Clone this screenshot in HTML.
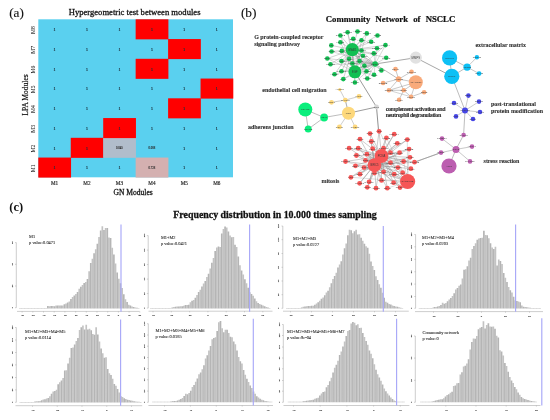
<!DOCTYPE html>
<html><head><meta charset="utf-8"><style>
html,body{margin:0;padding:0;background:#fff;overflow:hidden;width:550px;height:420px;}
svg{display:block;font-family:'Liberation Serif', 'Times New Roman', serif;}
</style></head><body>
<svg width="550" height="420" viewBox="0 0 550 420">
<rect width="550" height="420" fill="#fff"/>
<rect x="38.3" y="19.3" width="194.70" height="158.00" fill="#5AD0EF"/>
<rect x="38.30" y="157.55" width="32.75" height="20.05" fill="#FF0000"/>
<text x="54.52" y="169.33" font-size="2.6" font-family="Liberation Sans, sans-serif" text-anchor="middle" fill="#1c3440" stroke="#1c3440" stroke-width="0.22">1</text>
<text x="86.97" y="169.33" font-size="2.6" font-family="Liberation Sans, sans-serif" text-anchor="middle" fill="#1c3440" stroke="#1c3440" stroke-width="0.22">1</text>
<text x="119.42" y="169.33" font-size="2.6" font-family="Liberation Sans, sans-serif" text-anchor="middle" fill="#1c3440" stroke="#1c3440" stroke-width="0.22">1</text>
<rect x="135.65" y="157.55" width="32.75" height="20.05" fill="#D4B0B0"/>
<text x="151.87" y="168.83" font-size="3.0" text-anchor="middle" fill="#2a2a2a" stroke="#2a2a2a" stroke-width="0.1">0.728</text>
<text x="184.32" y="169.33" font-size="2.6" font-family="Liberation Sans, sans-serif" text-anchor="middle" fill="#1c3440" stroke="#1c3440" stroke-width="0.22">1</text>
<text x="216.77" y="169.33" font-size="2.6" font-family="Liberation Sans, sans-serif" text-anchor="middle" fill="#1c3440" stroke="#1c3440" stroke-width="0.22">1</text>
<text x="54.52" y="149.58" font-size="2.6" font-family="Liberation Sans, sans-serif" text-anchor="middle" fill="#1c3440" stroke="#1c3440" stroke-width="0.22">1</text>
<rect x="70.75" y="137.80" width="32.75" height="20.05" fill="#FF0000"/>
<text x="86.97" y="149.58" font-size="2.6" font-family="Liberation Sans, sans-serif" text-anchor="middle" fill="#1c3440" stroke="#1c3440" stroke-width="0.22">1</text>
<rect x="103.20" y="137.80" width="32.75" height="20.05" fill="#B1BDCB"/>
<text x="119.42" y="149.08" font-size="3.0" text-anchor="middle" fill="#2a2a2a" stroke="#2a2a2a" stroke-width="0.1">0.045</text>
<text x="151.87" y="149.08" font-size="3.0" text-anchor="middle" fill="#2a2a2a" stroke="#2a2a2a" stroke-width="0.1">0.088</text>
<text x="184.32" y="149.58" font-size="2.6" font-family="Liberation Sans, sans-serif" text-anchor="middle" fill="#1c3440" stroke="#1c3440" stroke-width="0.22">1</text>
<text x="216.77" y="149.58" font-size="2.6" font-family="Liberation Sans, sans-serif" text-anchor="middle" fill="#1c3440" stroke="#1c3440" stroke-width="0.22">1</text>
<text x="54.52" y="129.82" font-size="2.6" font-family="Liberation Sans, sans-serif" text-anchor="middle" fill="#1c3440" stroke="#1c3440" stroke-width="0.22">1</text>
<text x="86.97" y="129.82" font-size="2.6" font-family="Liberation Sans, sans-serif" text-anchor="middle" fill="#1c3440" stroke="#1c3440" stroke-width="0.22">1</text>
<rect x="103.20" y="118.05" width="32.75" height="20.05" fill="#FF0000"/>
<text x="119.42" y="129.82" font-size="2.6" font-family="Liberation Sans, sans-serif" text-anchor="middle" fill="#1c3440" stroke="#1c3440" stroke-width="0.22">1</text>
<text x="151.87" y="129.82" font-size="2.6" font-family="Liberation Sans, sans-serif" text-anchor="middle" fill="#1c3440" stroke="#1c3440" stroke-width="0.22">1</text>
<text x="184.32" y="129.82" font-size="2.6" font-family="Liberation Sans, sans-serif" text-anchor="middle" fill="#1c3440" stroke="#1c3440" stroke-width="0.22">1</text>
<text x="216.77" y="129.82" font-size="2.6" font-family="Liberation Sans, sans-serif" text-anchor="middle" fill="#1c3440" stroke="#1c3440" stroke-width="0.22">1</text>
<text x="54.52" y="110.08" font-size="2.6" font-family="Liberation Sans, sans-serif" text-anchor="middle" fill="#1c3440" stroke="#1c3440" stroke-width="0.22">1</text>
<text x="86.97" y="110.08" font-size="2.6" font-family="Liberation Sans, sans-serif" text-anchor="middle" fill="#1c3440" stroke="#1c3440" stroke-width="0.22">1</text>
<text x="119.42" y="110.08" font-size="2.6" font-family="Liberation Sans, sans-serif" text-anchor="middle" fill="#1c3440" stroke="#1c3440" stroke-width="0.22">1</text>
<text x="151.87" y="110.08" font-size="2.6" font-family="Liberation Sans, sans-serif" text-anchor="middle" fill="#1c3440" stroke="#1c3440" stroke-width="0.22">1</text>
<rect x="168.10" y="98.30" width="32.75" height="20.05" fill="#FF0000"/>
<text x="184.32" y="110.08" font-size="2.6" font-family="Liberation Sans, sans-serif" text-anchor="middle" fill="#1c3440" stroke="#1c3440" stroke-width="0.22">1</text>
<text x="216.77" y="110.08" font-size="2.6" font-family="Liberation Sans, sans-serif" text-anchor="middle" fill="#1c3440" stroke="#1c3440" stroke-width="0.22">1</text>
<text x="54.52" y="90.33" font-size="2.6" font-family="Liberation Sans, sans-serif" text-anchor="middle" fill="#1c3440" stroke="#1c3440" stroke-width="0.22">1</text>
<text x="86.97" y="90.33" font-size="2.6" font-family="Liberation Sans, sans-serif" text-anchor="middle" fill="#1c3440" stroke="#1c3440" stroke-width="0.22">1</text>
<text x="119.42" y="90.33" font-size="2.6" font-family="Liberation Sans, sans-serif" text-anchor="middle" fill="#1c3440" stroke="#1c3440" stroke-width="0.22">1</text>
<text x="151.87" y="90.33" font-size="2.6" font-family="Liberation Sans, sans-serif" text-anchor="middle" fill="#1c3440" stroke="#1c3440" stroke-width="0.22">1</text>
<text x="184.32" y="90.33" font-size="2.6" font-family="Liberation Sans, sans-serif" text-anchor="middle" fill="#1c3440" stroke="#1c3440" stroke-width="0.22">1</text>
<rect x="200.55" y="78.55" width="32.75" height="20.05" fill="#FF0000"/>
<text x="216.77" y="90.33" font-size="2.6" font-family="Liberation Sans, sans-serif" text-anchor="middle" fill="#1c3440" stroke="#1c3440" stroke-width="0.22">1</text>
<text x="54.52" y="70.58" font-size="2.6" font-family="Liberation Sans, sans-serif" text-anchor="middle" fill="#1c3440" stroke="#1c3440" stroke-width="0.22">1</text>
<text x="86.97" y="70.58" font-size="2.6" font-family="Liberation Sans, sans-serif" text-anchor="middle" fill="#1c3440" stroke="#1c3440" stroke-width="0.22">1</text>
<text x="119.42" y="70.58" font-size="2.6" font-family="Liberation Sans, sans-serif" text-anchor="middle" fill="#1c3440" stroke="#1c3440" stroke-width="0.22">1</text>
<rect x="135.65" y="58.80" width="32.75" height="20.05" fill="#FF0000"/>
<text x="151.87" y="70.58" font-size="2.6" font-family="Liberation Sans, sans-serif" text-anchor="middle" fill="#1c3440" stroke="#1c3440" stroke-width="0.22">1</text>
<text x="184.32" y="70.58" font-size="2.6" font-family="Liberation Sans, sans-serif" text-anchor="middle" fill="#1c3440" stroke="#1c3440" stroke-width="0.22">1</text>
<text x="216.77" y="70.58" font-size="2.6" font-family="Liberation Sans, sans-serif" text-anchor="middle" fill="#1c3440" stroke="#1c3440" stroke-width="0.22">1</text>
<text x="54.52" y="50.82" font-size="2.6" font-family="Liberation Sans, sans-serif" text-anchor="middle" fill="#1c3440" stroke="#1c3440" stroke-width="0.22">1</text>
<text x="86.97" y="50.82" font-size="2.6" font-family="Liberation Sans, sans-serif" text-anchor="middle" fill="#1c3440" stroke="#1c3440" stroke-width="0.22">1</text>
<text x="119.42" y="50.82" font-size="2.6" font-family="Liberation Sans, sans-serif" text-anchor="middle" fill="#1c3440" stroke="#1c3440" stroke-width="0.22">1</text>
<text x="151.87" y="50.82" font-size="2.6" font-family="Liberation Sans, sans-serif" text-anchor="middle" fill="#1c3440" stroke="#1c3440" stroke-width="0.22">1</text>
<rect x="168.10" y="39.05" width="32.75" height="20.05" fill="#FF0000"/>
<text x="184.32" y="50.82" font-size="2.6" font-family="Liberation Sans, sans-serif" text-anchor="middle" fill="#1c3440" stroke="#1c3440" stroke-width="0.22">1</text>
<text x="216.77" y="50.82" font-size="2.6" font-family="Liberation Sans, sans-serif" text-anchor="middle" fill="#1c3440" stroke="#1c3440" stroke-width="0.22">1</text>
<text x="54.52" y="31.07" font-size="2.6" font-family="Liberation Sans, sans-serif" text-anchor="middle" fill="#1c3440" stroke="#1c3440" stroke-width="0.22">1</text>
<text x="86.97" y="31.07" font-size="2.6" font-family="Liberation Sans, sans-serif" text-anchor="middle" fill="#1c3440" stroke="#1c3440" stroke-width="0.22">1</text>
<text x="119.42" y="31.07" font-size="2.6" font-family="Liberation Sans, sans-serif" text-anchor="middle" fill="#1c3440" stroke="#1c3440" stroke-width="0.22">1</text>
<rect x="135.65" y="19.30" width="32.75" height="20.05" fill="#FF0000"/>
<text x="151.87" y="31.07" font-size="2.6" font-family="Liberation Sans, sans-serif" text-anchor="middle" fill="#1c3440" stroke="#1c3440" stroke-width="0.22">1</text>
<text x="184.32" y="31.07" font-size="2.6" font-family="Liberation Sans, sans-serif" text-anchor="middle" fill="#1c3440" stroke="#1c3440" stroke-width="0.22">1</text>
<text x="216.77" y="31.07" font-size="2.6" font-family="Liberation Sans, sans-serif" text-anchor="middle" fill="#1c3440" stroke="#1c3440" stroke-width="0.22">1</text>
<text x="54.52" y="184.7" font-size="5.2" text-anchor="middle" fill="#222" stroke="#222" stroke-width="0.15">M1</text>
<text x="86.97" y="184.7" font-size="5.2" text-anchor="middle" fill="#222" stroke="#222" stroke-width="0.15">M2</text>
<text x="119.42" y="184.7" font-size="5.2" text-anchor="middle" fill="#222" stroke="#222" stroke-width="0.15">M3</text>
<text x="151.88" y="184.7" font-size="5.2" text-anchor="middle" fill="#222" stroke="#222" stroke-width="0.15">M4</text>
<text x="184.32" y="184.7" font-size="5.2" text-anchor="middle" fill="#222" stroke="#222" stroke-width="0.15">M5</text>
<text x="216.77" y="184.7" font-size="5.2" text-anchor="middle" fill="#222" stroke="#222" stroke-width="0.15">M6</text>
<text transform="translate(35.4 168.33) rotate(-90)" font-size="5.6" text-anchor="middle" fill="#222" stroke="#222" stroke-width="0.04">M1</text>
<text transform="translate(35.4 148.58) rotate(-90)" font-size="5.6" text-anchor="middle" fill="#222" stroke="#222" stroke-width="0.04">M2</text>
<text transform="translate(35.4 128.82) rotate(-90)" font-size="5.6" text-anchor="middle" fill="#222" stroke="#222" stroke-width="0.04">M3</text>
<text transform="translate(35.4 109.08) rotate(-90)" font-size="5.6" text-anchor="middle" fill="#222" stroke="#222" stroke-width="0.04">M4</text>
<text transform="translate(35.4 89.33) rotate(-90)" font-size="5.6" text-anchor="middle" fill="#222" stroke="#222" stroke-width="0.04">M5</text>
<text transform="translate(35.4 69.58) rotate(-90)" font-size="5.6" text-anchor="middle" fill="#222" stroke="#222" stroke-width="0.04">M6</text>
<text transform="translate(35.4 49.82) rotate(-90)" font-size="5.6" text-anchor="middle" fill="#222" stroke="#222" stroke-width="0.04">M7</text>
<text transform="translate(35.4 30.07) rotate(-90)" font-size="5.6" text-anchor="middle" fill="#222" stroke="#222" stroke-width="0.04">M8</text>
<text x="133.1" y="195.2" font-size="9" text-anchor="middle" fill="#111" stroke="#111" stroke-width="0.3" textLength="39.3" lengthAdjust="spacingAndGlyphs">GN Modules</text>
<text transform="translate(28.4 95) rotate(-90)" font-size="9" text-anchor="middle" fill="#111" stroke="#111" stroke-width="0.18" textLength="41.3" lengthAdjust="spacingAndGlyphs">LPA Modules</text>
<text x="134.6" y="14.5" font-size="9.0" text-anchor="middle" fill="#111" stroke="#111" stroke-width="0.3" textLength="131.8" lengthAdjust="spacingAndGlyphs">Hypergeometric test between modules</text>
<text x="9.2" y="17.2" font-size="13.2" fill="#111" stroke="#111" stroke-width="0.12">(a)</text>
<text x="240.9" y="16.9" font-size="13.4" fill="#111" stroke="#111" stroke-width="0.12">(b)</text>
<text x="390.5" y="21.6" font-size="8.8" font-weight="bold" text-anchor="middle" fill="#111" stroke="#111" stroke-width="0.2" textLength="129.5" lengthAdjust="spacingAndGlyphs" word-spacing="3">Community  Network  of  NSCLC</text>
<line x1="352.3" y1="49.7" x2="347.6" y2="32.3" stroke="#909090" stroke-width="0.4"/>
<line x1="352.3" y1="49.7" x2="357.5" y2="31.5" stroke="#909090" stroke-width="0.4"/>
<line x1="352.3" y1="49.7" x2="366.8" y2="33.4" stroke="#909090" stroke-width="0.4"/>
<line x1="352.3" y1="49.7" x2="377.5" y2="35.5" stroke="#909090" stroke-width="0.4"/>
<line x1="352.3" y1="49.7" x2="340.4" y2="35.5" stroke="#909090" stroke-width="0.4"/>
<line x1="352.3" y1="49.7" x2="353.2" y2="38.8" stroke="#909090" stroke-width="0.4"/>
<line x1="352.3" y1="49.7" x2="361.5" y2="40.3" stroke="#909090" stroke-width="0.4"/>
<line x1="352.3" y1="49.7" x2="371.2" y2="41.7" stroke="#909090" stroke-width="0.4"/>
<line x1="352.3" y1="49.7" x2="340.4" y2="42.2" stroke="#909090" stroke-width="0.4"/>
<line x1="352.3" y1="49.7" x2="331.3" y2="45.4" stroke="#909090" stroke-width="0.4"/>
<line x1="352.3" y1="49.7" x2="341.8" y2="50.9" stroke="#909090" stroke-width="0.4"/>
<line x1="352.3" y1="49.7" x2="331.6" y2="51.5" stroke="#909090" stroke-width="0.4"/>
<line x1="352.3" y1="49.7" x2="361.5" y2="50.5" stroke="#909090" stroke-width="0.4"/>
<line x1="352.3" y1="49.7" x2="377.0" y2="48.3" stroke="#909090" stroke-width="0.4"/>
<line x1="352.3" y1="49.7" x2="385.5" y2="45.1" stroke="#909090" stroke-width="0.4"/>
<line x1="352.3" y1="49.7" x2="373.8" y2="53.4" stroke="#909090" stroke-width="0.4"/>
<line x1="352.3" y1="49.7" x2="362.9" y2="55.8" stroke="#909090" stroke-width="0.4"/>
<line x1="352.3" y1="49.7" x2="386.2" y2="57.7" stroke="#909090" stroke-width="0.4"/>
<line x1="352.3" y1="49.7" x2="327.3" y2="58.5" stroke="#909090" stroke-width="0.4"/>
<line x1="352.3" y1="49.7" x2="349.1" y2="58.7" stroke="#909090" stroke-width="0.4"/>
<line x1="352.3" y1="49.7" x2="341.5" y2="61.1" stroke="#909090" stroke-width="0.4"/>
<line x1="352.3" y1="49.7" x2="359.6" y2="61.1" stroke="#909090" stroke-width="0.4"/>
<line x1="352.3" y1="49.7" x2="352.3" y2="63.5" stroke="#909090" stroke-width="0.4"/>
<line x1="352.3" y1="49.7" x2="330.5" y2="64.3" stroke="#909090" stroke-width="0.4"/>
<line x1="352.3" y1="49.7" x2="364.4" y2="65.7" stroke="#909090" stroke-width="0.4"/>
<line x1="352.3" y1="49.7" x2="381.4" y2="70.4" stroke="#909090" stroke-width="0.4"/>
<line x1="352.3" y1="49.7" x2="341.5" y2="71.3" stroke="#909090" stroke-width="0.4"/>
<line x1="352.3" y1="49.7" x2="366.5" y2="71.3" stroke="#909090" stroke-width="0.4"/>
<line x1="352.3" y1="49.7" x2="374.1" y2="74.7" stroke="#909090" stroke-width="0.4"/>
<line x1="352.3" y1="49.7" x2="334.5" y2="74.2" stroke="#909090" stroke-width="0.4"/>
<line x1="352.3" y1="49.7" x2="343.3" y2="79.1" stroke="#909090" stroke-width="0.4"/>
<line x1="352.3" y1="49.7" x2="367.3" y2="78.5" stroke="#909090" stroke-width="0.4"/>
<line x1="352.3" y1="49.7" x2="354.9" y2="82.5" stroke="#909090" stroke-width="0.4"/>
<line x1="354.9" y1="71.8" x2="347.6" y2="32.3" stroke="#909090" stroke-width="0.35"/>
<line x1="354.9" y1="71.8" x2="366.8" y2="33.4" stroke="#909090" stroke-width="0.35"/>
<line x1="354.9" y1="71.8" x2="340.4" y2="35.5" stroke="#909090" stroke-width="0.35"/>
<line x1="354.9" y1="71.8" x2="361.5" y2="40.3" stroke="#909090" stroke-width="0.35"/>
<line x1="354.9" y1="71.8" x2="340.4" y2="42.2" stroke="#909090" stroke-width="0.35"/>
<line x1="354.9" y1="71.8" x2="341.8" y2="50.9" stroke="#909090" stroke-width="0.35"/>
<line x1="354.9" y1="71.8" x2="361.5" y2="50.5" stroke="#909090" stroke-width="0.35"/>
<line x1="354.9" y1="71.8" x2="385.5" y2="45.1" stroke="#909090" stroke-width="0.35"/>
<line x1="354.9" y1="71.8" x2="362.9" y2="55.8" stroke="#909090" stroke-width="0.35"/>
<line x1="354.9" y1="71.8" x2="327.3" y2="58.5" stroke="#909090" stroke-width="0.35"/>
<line x1="354.9" y1="71.8" x2="341.5" y2="61.1" stroke="#909090" stroke-width="0.35"/>
<line x1="354.9" y1="71.8" x2="352.3" y2="63.5" stroke="#909090" stroke-width="0.35"/>
<line x1="354.9" y1="71.8" x2="364.4" y2="65.7" stroke="#909090" stroke-width="0.35"/>
<line x1="354.9" y1="71.8" x2="341.5" y2="71.3" stroke="#909090" stroke-width="0.35"/>
<line x1="354.9" y1="71.8" x2="374.1" y2="74.7" stroke="#909090" stroke-width="0.35"/>
<line x1="354.9" y1="71.8" x2="343.3" y2="79.1" stroke="#909090" stroke-width="0.35"/>
<line x1="354.9" y1="71.8" x2="354.9" y2="82.5" stroke="#909090" stroke-width="0.35"/>
<line x1="375.1" y1="64.0" x2="341.8" y2="50.9" stroke="#909090" stroke-width="0.35"/>
<line x1="375.1" y1="64.0" x2="331.6" y2="51.5" stroke="#909090" stroke-width="0.35"/>
<line x1="375.1" y1="64.0" x2="361.5" y2="50.5" stroke="#909090" stroke-width="0.35"/>
<line x1="375.1" y1="64.0" x2="377.0" y2="48.3" stroke="#909090" stroke-width="0.35"/>
<line x1="375.1" y1="64.0" x2="385.5" y2="45.1" stroke="#909090" stroke-width="0.35"/>
<line x1="375.1" y1="64.0" x2="373.8" y2="53.4" stroke="#909090" stroke-width="0.35"/>
<line x1="375.1" y1="64.0" x2="362.9" y2="55.8" stroke="#909090" stroke-width="0.35"/>
<line x1="375.1" y1="64.0" x2="386.2" y2="57.7" stroke="#909090" stroke-width="0.35"/>
<line x1="375.1" y1="64.0" x2="327.3" y2="58.5" stroke="#909090" stroke-width="0.35"/>
<line x1="375.1" y1="64.0" x2="349.1" y2="58.7" stroke="#909090" stroke-width="0.35"/>
<line x1="375.1" y1="64.0" x2="341.5" y2="61.1" stroke="#909090" stroke-width="0.35"/>
<line x1="375.1" y1="64.0" x2="359.6" y2="61.1" stroke="#909090" stroke-width="0.35"/>
<line x1="375.1" y1="64.0" x2="352.3" y2="63.5" stroke="#909090" stroke-width="0.35"/>
<line x1="375.1" y1="64.0" x2="330.5" y2="64.3" stroke="#909090" stroke-width="0.35"/>
<line x1="375.1" y1="64.0" x2="364.4" y2="65.7" stroke="#909090" stroke-width="0.35"/>
<line x1="375.1" y1="64.0" x2="381.4" y2="70.4" stroke="#909090" stroke-width="0.35"/>
<line x1="375.1" y1="64.0" x2="341.5" y2="71.3" stroke="#909090" stroke-width="0.35"/>
<line x1="375.1" y1="64.0" x2="366.5" y2="71.3" stroke="#909090" stroke-width="0.35"/>
<line x1="375.1" y1="64.0" x2="374.1" y2="74.7" stroke="#909090" stroke-width="0.35"/>
<line x1="375.1" y1="64.0" x2="334.5" y2="74.2" stroke="#909090" stroke-width="0.35"/>
<line x1="375.1" y1="64.0" x2="343.3" y2="79.1" stroke="#909090" stroke-width="0.35"/>
<line x1="375.1" y1="64.0" x2="367.3" y2="78.5" stroke="#909090" stroke-width="0.35"/>
<line x1="375.1" y1="64.0" x2="354.9" y2="82.5" stroke="#909090" stroke-width="0.35"/>
<line x1="352.3" y1="49.7" x2="354.9" y2="71.8" stroke="#909090" stroke-width="0.5"/>
<line x1="352.3" y1="49.7" x2="375.1" y2="64.0" stroke="#909090" stroke-width="0.5"/>
<line x1="354.9" y1="71.8" x2="375.1" y2="64.0" stroke="#909090" stroke-width="0.5"/>
<line x1="375.1" y1="64.0" x2="415.8" y2="57.7" stroke="#909090" stroke-width="0.8"/>
<line x1="415.8" y1="57.7" x2="451.8" y2="76.3" stroke="#909090" stroke-width="0.8"/>
<line x1="375.1" y1="64.0" x2="398.6" y2="79.1" stroke="#909090" stroke-width="0.6"/>
<line x1="354.9" y1="71.8" x2="376.5" y2="107.0" stroke="#909090" stroke-width="0.9"/>
<line x1="376.5" y1="107.0" x2="348.5" y2="113.2" stroke="#909090" stroke-width="0.9"/>
<line x1="376.5" y1="107.0" x2="378.6" y2="131.3" stroke="#909090" stroke-width="1.0"/>
<line x1="415.8" y1="82.3" x2="398.6" y2="79.1" stroke="#909090" stroke-width="0.5"/>
<line x1="398.6" y1="79.1" x2="395.5" y2="69.1" stroke="#909090" stroke-width="0.5"/>
<line x1="398.6" y1="79.1" x2="411.5" y2="71.7" stroke="#909090" stroke-width="0.5"/>
<line x1="398.6" y1="79.1" x2="383.1" y2="83.0" stroke="#909090" stroke-width="0.5"/>
<line x1="398.6" y1="79.1" x2="388.9" y2="90.3" stroke="#909090" stroke-width="0.5"/>
<line x1="398.6" y1="79.1" x2="403.7" y2="90.3" stroke="#909090" stroke-width="0.5"/>
<line x1="415.8" y1="82.3" x2="388.9" y2="90.3" stroke="#909090" stroke-width="0.5"/>
<line x1="415.8" y1="82.3" x2="403.7" y2="90.3" stroke="#909090" stroke-width="0.5"/>
<line x1="415.8" y1="82.3" x2="411.0" y2="96.8" stroke="#909090" stroke-width="0.5"/>
<line x1="411.0" y1="96.8" x2="424.1" y2="92.2" stroke="#909090" stroke-width="0.5"/>
<line x1="411.0" y1="96.8" x2="403.7" y2="90.3" stroke="#909090" stroke-width="0.5"/>
<line x1="399.1" y1="99.7" x2="403.7" y2="90.3" stroke="#909090" stroke-width="0.5"/>
<line x1="388.9" y1="90.3" x2="403.7" y2="90.3" stroke="#909090" stroke-width="0.5"/>
<line x1="388.9" y1="90.3" x2="411.0" y2="96.8" stroke="#909090" stroke-width="0.4"/>
<line x1="449.6" y1="57.9" x2="451.8" y2="76.3" stroke="#909090" stroke-width="0.6"/>
<line x1="449.6" y1="57.9" x2="467.1" y2="67.1" stroke="#909090" stroke-width="0.6"/>
<line x1="451.8" y1="76.3" x2="467.1" y2="67.1" stroke="#909090" stroke-width="0.6"/>
<line x1="467.1" y1="67.1" x2="476.9" y2="57.3" stroke="#909090" stroke-width="0.5"/>
<line x1="467.1" y1="67.1" x2="479.1" y2="73.6" stroke="#909090" stroke-width="0.5"/>
<line x1="451.8" y1="76.3" x2="465.0" y2="110.5" stroke="#909090" stroke-width="0.6"/>
<line x1="465.0" y1="110.5" x2="468.4" y2="95.6" stroke="#909090" stroke-width="0.45"/>
<line x1="465.0" y1="110.5" x2="454.0" y2="103.0" stroke="#909090" stroke-width="0.45"/>
<line x1="465.0" y1="110.5" x2="479.0" y2="101.6" stroke="#909090" stroke-width="0.45"/>
<line x1="465.0" y1="110.5" x2="480.0" y2="112.0" stroke="#909090" stroke-width="0.45"/>
<line x1="465.0" y1="110.5" x2="456.0" y2="116.4" stroke="#909090" stroke-width="0.45"/>
<line x1="465.0" y1="110.5" x2="473.0" y2="119.0" stroke="#909090" stroke-width="0.45"/>
<line x1="465.0" y1="110.5" x2="463.6" y2="135.0" stroke="#909090" stroke-width="0.6"/>
<line x1="463.6" y1="135.0" x2="456.0" y2="149.4" stroke="#909090" stroke-width="0.6"/>
<line x1="456.0" y1="149.4" x2="442.0" y2="138.6" stroke="#909090" stroke-width="0.5"/>
<line x1="456.0" y1="149.4" x2="472.0" y2="146.6" stroke="#909090" stroke-width="0.5"/>
<line x1="456.0" y1="149.4" x2="441.0" y2="152.6" stroke="#909090" stroke-width="0.5"/>
<line x1="456.0" y1="149.4" x2="470.0" y2="161.4" stroke="#909090" stroke-width="0.5"/>
<line x1="456.0" y1="149.4" x2="449.0" y2="166.0" stroke="#909090" stroke-width="0.6"/>
<line x1="441.0" y1="152.6" x2="414.5" y2="162.2" stroke="#909090" stroke-width="0.6"/>
<line x1="441.0" y1="152.6" x2="414.5" y2="162.2" stroke="#909090" stroke-width="0.6"/>
<line x1="348.5" y1="113.2" x2="345.3" y2="100.1" stroke="#909090" stroke-width="0.45"/>
<line x1="345.3" y1="100.1" x2="331.5" y2="102.3" stroke="#909090" stroke-width="0.45"/>
<line x1="345.3" y1="100.1" x2="359.0" y2="96.4" stroke="#909090" stroke-width="0.45"/>
<line x1="345.3" y1="100.1" x2="339.8" y2="89.6" stroke="#909090" stroke-width="0.45"/>
<line x1="348.5" y1="113.2" x2="339.4" y2="126.9" stroke="#909090" stroke-width="0.45"/>
<line x1="348.5" y1="113.2" x2="355.1" y2="126.9" stroke="#909090" stroke-width="0.45"/>
<line x1="348.5" y1="113.2" x2="345.3" y2="100.1" stroke="#909090" stroke-width="0.45"/>
<line x1="348.5" y1="113.2" x2="324.1" y2="117.5" stroke="#909090" stroke-width="0.6"/>
<line x1="305.3" y1="109.5" x2="324.1" y2="117.5" stroke="#909090" stroke-width="0.6"/>
<line x1="305.3" y1="109.5" x2="308.2" y2="129.1" stroke="#909090" stroke-width="0.6"/>
<line x1="324.1" y1="117.5" x2="308.2" y2="129.1" stroke="#909090" stroke-width="0.6"/>
<line x1="381.5" y1="156.0" x2="379.1" y2="131.3" stroke="#909090" stroke-width="0.45"/>
<line x1="374.5" y1="165.1" x2="379.1" y2="131.3" stroke="#909090" stroke-width="0.45"/>
<line x1="381.5" y1="156.0" x2="370.0" y2="133.6" stroke="#909090" stroke-width="0.45"/>
<line x1="374.5" y1="165.1" x2="370.0" y2="133.6" stroke="#909090" stroke-width="0.45"/>
<line x1="381.5" y1="156.0" x2="394.2" y2="134.2" stroke="#909090" stroke-width="0.45"/>
<line x1="374.5" y1="165.1" x2="394.2" y2="134.2" stroke="#909090" stroke-width="0.45"/>
<line x1="381.5" y1="156.0" x2="386.4" y2="137.8" stroke="#909090" stroke-width="0.45"/>
<line x1="374.5" y1="165.1" x2="386.4" y2="137.8" stroke="#909090" stroke-width="0.45"/>
<line x1="381.5" y1="156.0" x2="360.0" y2="139.1" stroke="#909090" stroke-width="0.45"/>
<line x1="374.5" y1="165.1" x2="360.0" y2="139.1" stroke="#909090" stroke-width="0.45"/>
<line x1="381.5" y1="156.0" x2="371.3" y2="141.5" stroke="#909090" stroke-width="0.45"/>
<line x1="374.5" y1="165.1" x2="371.3" y2="141.5" stroke="#909090" stroke-width="0.45"/>
<line x1="381.5" y1="156.0" x2="407.3" y2="139.6" stroke="#909090" stroke-width="0.45"/>
<line x1="374.5" y1="165.1" x2="407.3" y2="139.6" stroke="#909090" stroke-width="0.45"/>
<line x1="381.5" y1="156.0" x2="397.3" y2="143.3" stroke="#909090" stroke-width="0.45"/>
<line x1="374.5" y1="165.1" x2="397.3" y2="143.3" stroke="#909090" stroke-width="0.45"/>
<line x1="381.5" y1="156.0" x2="349.1" y2="148.2" stroke="#909090" stroke-width="0.45"/>
<line x1="374.5" y1="165.1" x2="349.1" y2="148.2" stroke="#909090" stroke-width="0.45"/>
<line x1="381.5" y1="156.0" x2="358.2" y2="148.2" stroke="#909090" stroke-width="0.45"/>
<line x1="374.5" y1="165.1" x2="358.2" y2="148.2" stroke="#909090" stroke-width="0.45"/>
<line x1="381.5" y1="156.0" x2="372.7" y2="148.7" stroke="#909090" stroke-width="0.45"/>
<line x1="374.5" y1="165.1" x2="372.7" y2="148.7" stroke="#909090" stroke-width="0.45"/>
<line x1="381.5" y1="156.0" x2="383.6" y2="148.2" stroke="#909090" stroke-width="0.45"/>
<line x1="374.5" y1="165.1" x2="383.6" y2="148.2" stroke="#909090" stroke-width="0.45"/>
<line x1="381.5" y1="156.0" x2="409.1" y2="149.1" stroke="#909090" stroke-width="0.45"/>
<line x1="374.5" y1="165.1" x2="409.1" y2="149.1" stroke="#909090" stroke-width="0.45"/>
<line x1="381.5" y1="156.0" x2="390.5" y2="152.7" stroke="#909090" stroke-width="0.45"/>
<line x1="374.5" y1="165.1" x2="390.5" y2="152.7" stroke="#909090" stroke-width="0.45"/>
<line x1="381.5" y1="156.0" x2="399.6" y2="152.7" stroke="#909090" stroke-width="0.45"/>
<line x1="374.5" y1="165.1" x2="399.6" y2="152.7" stroke="#909090" stroke-width="0.45"/>
<line x1="381.5" y1="156.0" x2="366.9" y2="154.2" stroke="#909090" stroke-width="0.45"/>
<line x1="374.5" y1="165.1" x2="366.9" y2="154.2" stroke="#909090" stroke-width="0.45"/>
<line x1="381.5" y1="156.0" x2="356.4" y2="155.5" stroke="#909090" stroke-width="0.45"/>
<line x1="374.5" y1="165.1" x2="356.4" y2="155.5" stroke="#909090" stroke-width="0.45"/>
<line x1="381.5" y1="156.0" x2="410.0" y2="157.3" stroke="#909090" stroke-width="0.45"/>
<line x1="374.5" y1="165.1" x2="410.0" y2="157.3" stroke="#909090" stroke-width="0.45"/>
<line x1="381.5" y1="156.0" x2="345.5" y2="161.5" stroke="#909090" stroke-width="0.45"/>
<line x1="374.5" y1="165.1" x2="345.5" y2="161.5" stroke="#909090" stroke-width="0.45"/>
<line x1="381.5" y1="156.0" x2="365.5" y2="160.4" stroke="#909090" stroke-width="0.45"/>
<line x1="374.5" y1="165.1" x2="365.5" y2="160.4" stroke="#909090" stroke-width="0.45"/>
<line x1="381.5" y1="156.0" x2="390.5" y2="162.7" stroke="#909090" stroke-width="0.45"/>
<line x1="374.5" y1="165.1" x2="390.5" y2="162.7" stroke="#909090" stroke-width="0.45"/>
<line x1="381.5" y1="156.0" x2="403.6" y2="161.5" stroke="#909090" stroke-width="0.45"/>
<line x1="374.5" y1="165.1" x2="403.6" y2="161.5" stroke="#909090" stroke-width="0.45"/>
<line x1="381.5" y1="156.0" x2="414.5" y2="162.2" stroke="#909090" stroke-width="0.45"/>
<line x1="374.5" y1="165.1" x2="414.5" y2="162.2" stroke="#909090" stroke-width="0.45"/>
<line x1="381.5" y1="156.0" x2="355.5" y2="165.8" stroke="#909090" stroke-width="0.45"/>
<line x1="374.5" y1="165.1" x2="355.5" y2="165.8" stroke="#909090" stroke-width="0.45"/>
<line x1="381.5" y1="156.0" x2="364.0" y2="167.6" stroke="#909090" stroke-width="0.45"/>
<line x1="374.5" y1="165.1" x2="364.0" y2="167.6" stroke="#909090" stroke-width="0.45"/>
<line x1="381.5" y1="156.0" x2="397.8" y2="167.6" stroke="#909090" stroke-width="0.45"/>
<line x1="374.5" y1="165.1" x2="397.8" y2="167.6" stroke="#909090" stroke-width="0.45"/>
<line x1="381.5" y1="156.0" x2="410.9" y2="168.7" stroke="#909090" stroke-width="0.45"/>
<line x1="374.5" y1="165.1" x2="410.9" y2="168.7" stroke="#909090" stroke-width="0.45"/>
<line x1="381.5" y1="156.0" x2="350.9" y2="177.3" stroke="#909090" stroke-width="0.45"/>
<line x1="374.5" y1="165.1" x2="350.9" y2="177.3" stroke="#909090" stroke-width="0.45"/>
<line x1="381.5" y1="156.0" x2="360.0" y2="174.2" stroke="#909090" stroke-width="0.45"/>
<line x1="374.5" y1="165.1" x2="360.0" y2="174.2" stroke="#909090" stroke-width="0.45"/>
<line x1="381.5" y1="156.0" x2="374.5" y2="173.1" stroke="#909090" stroke-width="0.45"/>
<line x1="374.5" y1="165.1" x2="374.5" y2="173.1" stroke="#909090" stroke-width="0.45"/>
<line x1="381.5" y1="156.0" x2="383.6" y2="171.8" stroke="#909090" stroke-width="0.45"/>
<line x1="374.5" y1="165.1" x2="383.6" y2="171.8" stroke="#909090" stroke-width="0.45"/>
<line x1="381.5" y1="156.0" x2="394.2" y2="174.2" stroke="#909090" stroke-width="0.45"/>
<line x1="374.5" y1="165.1" x2="394.2" y2="174.2" stroke="#909090" stroke-width="0.45"/>
<line x1="381.5" y1="156.0" x2="402.7" y2="172.7" stroke="#909090" stroke-width="0.45"/>
<line x1="374.5" y1="165.1" x2="402.7" y2="172.7" stroke="#909090" stroke-width="0.45"/>
<line x1="381.5" y1="156.0" x2="381.5" y2="180.4" stroke="#909090" stroke-width="0.45"/>
<line x1="374.5" y1="165.1" x2="381.5" y2="180.4" stroke="#909090" stroke-width="0.45"/>
<line x1="381.5" y1="156.0" x2="369.1" y2="181.8" stroke="#909090" stroke-width="0.45"/>
<line x1="374.5" y1="165.1" x2="369.1" y2="181.8" stroke="#909090" stroke-width="0.45"/>
<line x1="381.5" y1="156.0" x2="359.6" y2="183.3" stroke="#909090" stroke-width="0.45"/>
<line x1="374.5" y1="165.1" x2="359.6" y2="183.3" stroke="#909090" stroke-width="0.45"/>
<line x1="381.5" y1="156.0" x2="393.6" y2="182.7" stroke="#909090" stroke-width="0.45"/>
<line x1="374.5" y1="165.1" x2="393.6" y2="182.7" stroke="#909090" stroke-width="0.45"/>
<line x1="381.5" y1="156.0" x2="367.3" y2="187.3" stroke="#909090" stroke-width="0.45"/>
<line x1="374.5" y1="165.1" x2="367.3" y2="187.3" stroke="#909090" stroke-width="0.45"/>
<line x1="381.5" y1="156.0" x2="376.0" y2="188.2" stroke="#909090" stroke-width="0.45"/>
<line x1="374.5" y1="165.1" x2="376.0" y2="188.2" stroke="#909090" stroke-width="0.45"/>
<line x1="381.5" y1="156.0" x2="387.3" y2="188.2" stroke="#909090" stroke-width="0.45"/>
<line x1="374.5" y1="165.1" x2="387.3" y2="188.2" stroke="#909090" stroke-width="0.45"/>
<line x1="381.5" y1="156.0" x2="400.0" y2="187.6" stroke="#909090" stroke-width="0.45"/>
<line x1="374.5" y1="165.1" x2="400.0" y2="187.6" stroke="#909090" stroke-width="0.45"/>
<line x1="407.6" y1="181.5" x2="379.1" y2="131.3" stroke="#909090" stroke-width="0.3"/>
<line x1="407.6" y1="181.5" x2="386.4" y2="137.8" stroke="#909090" stroke-width="0.3"/>
<line x1="407.6" y1="181.5" x2="407.3" y2="139.6" stroke="#909090" stroke-width="0.3"/>
<line x1="407.6" y1="181.5" x2="358.2" y2="148.2" stroke="#909090" stroke-width="0.3"/>
<line x1="407.6" y1="181.5" x2="409.1" y2="149.1" stroke="#909090" stroke-width="0.3"/>
<line x1="407.6" y1="181.5" x2="366.9" y2="154.2" stroke="#909090" stroke-width="0.3"/>
<line x1="407.6" y1="181.5" x2="345.5" y2="161.5" stroke="#909090" stroke-width="0.3"/>
<line x1="407.6" y1="181.5" x2="403.6" y2="161.5" stroke="#909090" stroke-width="0.3"/>
<line x1="407.6" y1="181.5" x2="364.0" y2="167.6" stroke="#909090" stroke-width="0.3"/>
<line x1="407.6" y1="181.5" x2="350.9" y2="177.3" stroke="#909090" stroke-width="0.3"/>
<line x1="407.6" y1="181.5" x2="383.6" y2="171.8" stroke="#909090" stroke-width="0.3"/>
<line x1="407.6" y1="181.5" x2="381.5" y2="180.4" stroke="#909090" stroke-width="0.3"/>
<line x1="407.6" y1="181.5" x2="393.6" y2="182.7" stroke="#909090" stroke-width="0.3"/>
<line x1="407.6" y1="181.5" x2="387.3" y2="188.2" stroke="#909090" stroke-width="0.3"/>
<line x1="381.5" y1="156.0" x2="374.5" y2="165.1" stroke="#909090" stroke-width="0.5"/>
<line x1="381.5" y1="156.0" x2="407.6" y2="181.5" stroke="#909090" stroke-width="0.5"/>
<line x1="374.5" y1="165.1" x2="407.6" y2="181.5" stroke="#909090" stroke-width="0.5"/>
<circle cx="347.6" cy="32.3" r="2.30" fill="#12BF52"/>
<text x="347.6" y="33.1" font-size="2.35" font-family="Liberation Sans, sans-serif" text-anchor="middle" fill="#383838" letter-spacing="0.12">CHRM3</text>
<circle cx="357.5" cy="31.5" r="2.30" fill="#12BF52"/>
<text x="357.5" y="32.3" font-size="2.35" font-family="Liberation Sans, sans-serif" text-anchor="middle" fill="#383838" letter-spacing="0.12">ADRB2</text>
<circle cx="366.8" cy="33.4" r="2.30" fill="#12BF52"/>
<text x="366.8" y="34.2" font-size="2.35" font-family="Liberation Sans, sans-serif" text-anchor="middle" fill="#383838" letter-spacing="0.12">GNG11</text>
<circle cx="377.5" cy="35.5" r="2.30" fill="#12BF52"/>
<text x="377.5" y="36.3" font-size="2.35" font-family="Liberation Sans, sans-serif" text-anchor="middle" fill="#383838" letter-spacing="0.12">GNAI2</text>
<circle cx="340.4" cy="35.5" r="2.30" fill="#12BF52"/>
<text x="340.4" y="36.3" font-size="2.35" font-family="Liberation Sans, sans-serif" text-anchor="middle" fill="#383838" letter-spacing="0.12">CXCL12</text>
<circle cx="353.2" cy="38.8" r="2.30" fill="#12BF52"/>
<text x="353.2" y="39.6" font-size="2.35" font-family="Liberation Sans, sans-serif" text-anchor="middle" fill="#383838" letter-spacing="0.12">EDN1</text>
<circle cx="361.5" cy="40.3" r="2.30" fill="#12BF52"/>
<text x="361.5" y="41.1" font-size="2.35" font-family="Liberation Sans, sans-serif" text-anchor="middle" fill="#383838" letter-spacing="0.12">AGTR1</text>
<circle cx="371.2" cy="41.7" r="2.30" fill="#12BF52"/>
<text x="371.2" y="42.5" font-size="2.35" font-family="Liberation Sans, sans-serif" text-anchor="middle" fill="#383838" letter-spacing="0.12">S1PR1</text>
<circle cx="340.4" cy="42.2" r="2.30" fill="#12BF52"/>
<text x="340.4" y="43.0" font-size="2.35" font-family="Liberation Sans, sans-serif" text-anchor="middle" fill="#383838" letter-spacing="0.12">LPAR1</text>
<circle cx="331.3" cy="45.4" r="2.30" fill="#12BF52"/>
<text x="331.3" y="46.2" font-size="2.35" font-family="Liberation Sans, sans-serif" text-anchor="middle" fill="#383838" letter-spacing="0.12">F2R</text>
<circle cx="341.8" cy="50.9" r="2.30" fill="#12BF52"/>
<text x="341.8" y="51.7" font-size="2.35" font-family="Liberation Sans, sans-serif" text-anchor="middle" fill="#383838" letter-spacing="0.12">GPR4</text>
<circle cx="331.6" cy="51.5" r="2.30" fill="#12BF52"/>
<text x="331.6" y="52.3" font-size="2.35" font-family="Liberation Sans, sans-serif" text-anchor="middle" fill="#383838" letter-spacing="0.12">CCL2</text>
<circle cx="361.5" cy="50.5" r="2.30" fill="#12BF52"/>
<text x="361.5" y="51.3" font-size="2.35" font-family="Liberation Sans, sans-serif" text-anchor="middle" fill="#383838" letter-spacing="0.12">CXCL8</text>
<circle cx="377.0" cy="48.3" r="2.30" fill="#12BF52"/>
<text x="377.0" y="49.1" font-size="2.35" font-family="Liberation Sans, sans-serif" text-anchor="middle" fill="#383838" letter-spacing="0.12">PTGER4</text>
<circle cx="385.5" cy="45.1" r="2.30" fill="#12BF52"/>
<text x="385.5" y="45.9" font-size="2.35" font-family="Liberation Sans, sans-serif" text-anchor="middle" fill="#383838" letter-spacing="0.12">ADCY4</text>
<circle cx="373.8" cy="53.4" r="2.30" fill="#12BF52"/>
<text x="373.8" y="54.2" font-size="2.35" font-family="Liberation Sans, sans-serif" text-anchor="middle" fill="#383838" letter-spacing="0.12">RGS2</text>
<circle cx="362.9" cy="55.8" r="2.30" fill="#12BF52"/>
<text x="362.9" y="56.6" font-size="2.35" font-family="Liberation Sans, sans-serif" text-anchor="middle" fill="#383838" letter-spacing="0.12">CALCRL</text>
<circle cx="386.2" cy="57.7" r="2.30" fill="#12BF52"/>
<text x="386.2" y="58.5" font-size="2.35" font-family="Liberation Sans, sans-serif" text-anchor="middle" fill="#383838" letter-spacing="0.12">RAMP2</text>
<circle cx="327.3" cy="58.5" r="2.30" fill="#12BF52"/>
<text x="327.3" y="59.3" font-size="2.35" font-family="Liberation Sans, sans-serif" text-anchor="middle" fill="#383838" letter-spacing="0.12">NPR1</text>
<circle cx="349.1" cy="58.7" r="2.30" fill="#12BF52"/>
<text x="349.1" y="59.5" font-size="2.35" font-family="Liberation Sans, sans-serif" text-anchor="middle" fill="#383838" letter-spacing="0.12">VIPR1</text>
<circle cx="341.5" cy="61.1" r="2.30" fill="#12BF52"/>
<text x="341.5" y="61.9" font-size="2.35" font-family="Liberation Sans, sans-serif" text-anchor="middle" fill="#383838" letter-spacing="0.12">APLNR</text>
<circle cx="359.6" cy="61.1" r="2.30" fill="#12BF52"/>
<text x="359.6" y="61.9" font-size="2.35" font-family="Liberation Sans, sans-serif" text-anchor="middle" fill="#383838" letter-spacing="0.12">GNAQ</text>
<circle cx="352.3" cy="63.5" r="2.30" fill="#12BF52"/>
<text x="352.3" y="64.3" font-size="2.35" font-family="Liberation Sans, sans-serif" text-anchor="middle" fill="#383838" letter-spacing="0.12">PIK3R1</text>
<circle cx="330.5" cy="64.3" r="2.30" fill="#12BF52"/>
<text x="330.5" y="65.1" font-size="2.35" font-family="Liberation Sans, sans-serif" text-anchor="middle" fill="#383838" letter-spacing="0.12">PRKCB</text>
<circle cx="364.4" cy="65.7" r="2.30" fill="#12BF52"/>
<text x="364.4" y="66.5" font-size="2.35" font-family="Liberation Sans, sans-serif" text-anchor="middle" fill="#383838" letter-spacing="0.12">ADM</text>
<circle cx="381.4" cy="70.4" r="2.30" fill="#12BF52"/>
<text x="381.4" y="71.2" font-size="2.35" font-family="Liberation Sans, sans-serif" text-anchor="middle" fill="#383838" letter-spacing="0.12">CCR7</text>
<circle cx="341.5" cy="71.3" r="2.30" fill="#12BF52"/>
<text x="341.5" y="72.1" font-size="2.35" font-family="Liberation Sans, sans-serif" text-anchor="middle" fill="#383838" letter-spacing="0.12">P2RY14</text>
<circle cx="366.5" cy="71.3" r="2.30" fill="#12BF52"/>
<text x="366.5" y="72.1" font-size="2.35" font-family="Liberation Sans, sans-serif" text-anchor="middle" fill="#383838" letter-spacing="0.12">HTR2B</text>
<circle cx="374.1" cy="74.7" r="2.30" fill="#12BF52"/>
<text x="374.1" y="75.5" font-size="2.35" font-family="Liberation Sans, sans-serif" text-anchor="middle" fill="#383838" letter-spacing="0.12">GRK5</text>
<circle cx="334.5" cy="74.2" r="2.30" fill="#12BF52"/>
<text x="334.5" y="75.0" font-size="2.35" font-family="Liberation Sans, sans-serif" text-anchor="middle" fill="#383838" letter-spacing="0.12">ARRB1</text>
<circle cx="343.3" cy="79.1" r="2.30" fill="#12BF52"/>
<text x="343.3" y="79.9" font-size="2.35" font-family="Liberation Sans, sans-serif" text-anchor="middle" fill="#383838" letter-spacing="0.12">FPR1</text>
<circle cx="367.3" cy="78.5" r="2.30" fill="#12BF52"/>
<text x="367.3" y="79.3" font-size="2.35" font-family="Liberation Sans, sans-serif" text-anchor="middle" fill="#383838" letter-spacing="0.12">C5AR1</text>
<circle cx="354.9" cy="82.5" r="2.30" fill="#12BF52"/>
<text x="354.9" y="83.3" font-size="2.35" font-family="Liberation Sans, sans-serif" text-anchor="middle" fill="#383838" letter-spacing="0.12">PTAFR</text>
<circle cx="352.3" cy="49.7" r="6.60" fill="#12BF52"/>
<text x="352.3" y="50.6" font-size="2.60" font-family="Liberation Sans, sans-serif" text-anchor="middle" fill="#383838" letter-spacing="0.12">GNAI1</text>
<circle cx="354.9" cy="71.8" r="6.50" fill="#12BF52"/>
<text x="354.9" y="72.7" font-size="2.60" font-family="Liberation Sans, sans-serif" text-anchor="middle" fill="#383838" letter-spacing="0.12">EGF</text>
<circle cx="375.1" cy="64.0" r="2.80" fill="#12BF52"/>
<text x="375.1" y="64.8" font-size="2.35" font-family="Liberation Sans, sans-serif" text-anchor="middle" fill="#383838" letter-spacing="0.12">SSTR2</text>
<circle cx="415.8" cy="57.7" r="6.10" fill="#E1E1E1"/>
<text x="415.8" y="58.7" font-size="2.80" font-family="Liberation Sans, sans-serif" text-anchor="middle" fill="#383838" letter-spacing="0.12">MMP9</text>
<circle cx="376.5" cy="107.0" r="2.40" fill="#D6D6D6"/>
<text x="376.5" y="107.7" font-size="2.00" font-family="Liberation Sans, sans-serif" text-anchor="middle" fill="#383838" letter-spacing="0.12">SPP1</text>
<circle cx="395.5" cy="69.1" r="2.30" fill="#F9AA7A"/>
<text x="395.5" y="69.9" font-size="2.35" font-family="Liberation Sans, sans-serif" text-anchor="middle" fill="#383838" letter-spacing="0.12">TSHR</text>
<circle cx="411.5" cy="71.7" r="2.30" fill="#F9AA7A"/>
<text x="411.5" y="72.5" font-size="2.35" font-family="Liberation Sans, sans-serif" text-anchor="middle" fill="#383838" letter-spacing="0.12">GPR116</text>
<circle cx="383.1" cy="83.0" r="2.30" fill="#F9AA7A"/>
<text x="383.1" y="83.8" font-size="2.35" font-family="Liberation Sans, sans-serif" text-anchor="middle" fill="#383838" letter-spacing="0.12">EDNRB</text>
<circle cx="388.9" cy="90.3" r="2.30" fill="#F9AA7A"/>
<text x="388.9" y="91.1" font-size="2.35" font-family="Liberation Sans, sans-serif" text-anchor="middle" fill="#383838" letter-spacing="0.12">NTSR1</text>
<circle cx="403.7" cy="90.3" r="2.30" fill="#F9AA7A"/>
<text x="403.7" y="91.1" font-size="2.35" font-family="Liberation Sans, sans-serif" text-anchor="middle" fill="#383838" letter-spacing="0.12">OXTR</text>
<circle cx="411.0" cy="96.8" r="2.30" fill="#F9AA7A"/>
<text x="411.0" y="97.6" font-size="2.35" font-family="Liberation Sans, sans-serif" text-anchor="middle" fill="#383838" letter-spacing="0.12">GLP1R</text>
<circle cx="424.1" cy="92.2" r="2.30" fill="#F9AA7A"/>
<text x="424.1" y="93.0" font-size="2.35" font-family="Liberation Sans, sans-serif" text-anchor="middle" fill="#383838" letter-spacing="0.12">CNR2</text>
<circle cx="399.1" cy="99.7" r="2.30" fill="#F9AA7A"/>
<text x="399.1" y="100.5" font-size="2.35" font-family="Liberation Sans, sans-serif" text-anchor="middle" fill="#383838" letter-spacing="0.12">LPAR6</text>
<circle cx="398.6" cy="79.1" r="2.80" fill="#F9AA7A"/>
<text x="398.6" y="79.9" font-size="2.35" font-family="Liberation Sans, sans-serif" text-anchor="middle" fill="#383838" letter-spacing="0.12">CHRM3</text>
<circle cx="415.8" cy="82.3" r="7.00" fill="#F9AA7A"/>
<text x="415.8" y="83.1" font-size="2.30" font-family="Liberation Sans, sans-serif" text-anchor="middle" fill="#383838" letter-spacing="0.12">ADAMTS1</text>
<circle cx="449.6" cy="57.9" r="7.60" fill="#0DC0F5"/>
<text x="449.6" y="58.8" font-size="2.40" font-family="Liberation Sans, sans-serif" text-anchor="middle" fill="#383838" letter-spacing="0.12">MMP11</text>
<circle cx="451.8" cy="76.3" r="7.60" fill="#0DC0F5"/>
<text x="451.8" y="77.2" font-size="2.40" font-family="Liberation Sans, sans-serif" text-anchor="middle" fill="#383838" letter-spacing="0.12">MMP1</text>
<circle cx="467.1" cy="67.1" r="3.70" fill="#0DC0F5"/>
<text x="467.1" y="67.9" font-size="2.35" font-family="Liberation Sans, sans-serif" text-anchor="middle" fill="#383838" letter-spacing="0.12">ADRB2</text>
<circle cx="476.9" cy="57.3" r="2.20" fill="#0DC0F5"/>
<text x="476.9" y="58.1" font-size="2.35" font-family="Liberation Sans, sans-serif" text-anchor="middle" fill="#383838" letter-spacing="0.12">GNG11</text>
<circle cx="479.1" cy="73.6" r="2.40" fill="#0DC0F5"/>
<text x="479.1" y="74.4" font-size="2.35" font-family="Liberation Sans, sans-serif" text-anchor="middle" fill="#383838" letter-spacing="0.12">GNAI2</text>
<circle cx="465.0" cy="110.5" r="3.00" fill="#4646E6"/>
<text x="465.0" y="111.3" font-size="2.35" font-family="Liberation Sans, sans-serif" text-anchor="middle" fill="#383838" letter-spacing="0.12">CXCL12</text>
<circle cx="468.4" cy="95.6" r="2.30" fill="#4646E6"/>
<text x="468.4" y="96.4" font-size="2.35" font-family="Liberation Sans, sans-serif" text-anchor="middle" fill="#383838" letter-spacing="0.12">EDN1</text>
<circle cx="454.0" cy="103.0" r="2.30" fill="#4646E6"/>
<text x="454.0" y="103.8" font-size="2.35" font-family="Liberation Sans, sans-serif" text-anchor="middle" fill="#383838" letter-spacing="0.12">AGTR1</text>
<circle cx="479.0" cy="101.6" r="2.30" fill="#4646E6"/>
<text x="479.0" y="102.4" font-size="2.35" font-family="Liberation Sans, sans-serif" text-anchor="middle" fill="#383838" letter-spacing="0.12">S1PR1</text>
<circle cx="480.0" cy="112.0" r="2.30" fill="#4646E6"/>
<text x="480.0" y="112.8" font-size="2.35" font-family="Liberation Sans, sans-serif" text-anchor="middle" fill="#383838" letter-spacing="0.12">LPAR1</text>
<circle cx="456.0" cy="116.4" r="2.30" fill="#4646E6"/>
<text x="456.0" y="117.2" font-size="2.35" font-family="Liberation Sans, sans-serif" text-anchor="middle" fill="#383838" letter-spacing="0.12">F2R</text>
<circle cx="473.0" cy="119.0" r="2.30" fill="#4646E6"/>
<text x="473.0" y="119.8" font-size="2.35" font-family="Liberation Sans, sans-serif" text-anchor="middle" fill="#383838" letter-spacing="0.12">GPR4</text>
<circle cx="456.0" cy="149.4" r="3.50" fill="#BC5EB0"/>
<text x="456.0" y="150.2" font-size="2.35" font-family="Liberation Sans, sans-serif" text-anchor="middle" fill="#383838" letter-spacing="0.12">CCL2</text>
<circle cx="449.0" cy="166.0" r="7.60" fill="#BC5EB0"/>
<text x="449.0" y="166.9" font-size="2.40" font-family="Liberation Sans, sans-serif" text-anchor="middle" fill="#383838" letter-spacing="0.12">ATF3</text>
<circle cx="463.6" cy="135.0" r="2.30" fill="#BC5EB0"/>
<text x="463.6" y="135.8" font-size="2.35" font-family="Liberation Sans, sans-serif" text-anchor="middle" fill="#383838" letter-spacing="0.12">CXCL8</text>
<circle cx="442.0" cy="138.6" r="2.30" fill="#BC5EB0"/>
<text x="442.0" y="139.4" font-size="2.35" font-family="Liberation Sans, sans-serif" text-anchor="middle" fill="#383838" letter-spacing="0.12">PTGER4</text>
<circle cx="472.0" cy="146.6" r="2.30" fill="#BC5EB0"/>
<text x="472.0" y="147.4" font-size="2.35" font-family="Liberation Sans, sans-serif" text-anchor="middle" fill="#383838" letter-spacing="0.12">ADCY4</text>
<circle cx="441.0" cy="152.6" r="2.30" fill="#BC5EB0"/>
<text x="441.0" y="153.4" font-size="2.35" font-family="Liberation Sans, sans-serif" text-anchor="middle" fill="#383838" letter-spacing="0.12">RGS2</text>
<circle cx="470.0" cy="161.4" r="2.30" fill="#BC5EB0"/>
<text x="470.0" y="162.2" font-size="2.35" font-family="Liberation Sans, sans-serif" text-anchor="middle" fill="#383838" letter-spacing="0.12">CALCRL</text>
<circle cx="348.5" cy="113.2" r="6.50" fill="#FDD87C"/>
<text x="348.5" y="114.1" font-size="2.40" font-family="Liberation Sans, sans-serif" text-anchor="middle" fill="#383838" letter-spacing="0.12">KDR</text>
<circle cx="345.3" cy="100.1" r="2.40" fill="#FDD87C"/>
<text x="345.3" y="100.9" font-size="2.35" font-family="Liberation Sans, sans-serif" text-anchor="middle" fill="#383838" letter-spacing="0.12">RAMP2</text>
<circle cx="331.5" cy="102.3" r="2.40" fill="#FDD87C"/>
<text x="331.5" y="103.1" font-size="2.35" font-family="Liberation Sans, sans-serif" text-anchor="middle" fill="#383838" letter-spacing="0.12">NPR1</text>
<circle cx="359.0" cy="96.4" r="2.40" fill="#FDD87C"/>
<text x="359.0" y="97.2" font-size="2.35" font-family="Liberation Sans, sans-serif" text-anchor="middle" fill="#383838" letter-spacing="0.12">VIPR1</text>
<circle cx="339.8" cy="89.6" r="1.60" fill="#FDD87C"/>
<text x="339.8" y="90.4" font-size="2.35" font-family="Liberation Sans, sans-serif" text-anchor="middle" fill="#383838" letter-spacing="0.12">APLNR</text>
<circle cx="339.4" cy="126.9" r="2.40" fill="#FDD87C"/>
<text x="339.4" y="127.7" font-size="2.35" font-family="Liberation Sans, sans-serif" text-anchor="middle" fill="#383838" letter-spacing="0.12">GNAQ</text>
<circle cx="355.1" cy="126.9" r="2.40" fill="#FDD87C"/>
<text x="355.1" y="127.7" font-size="2.35" font-family="Liberation Sans, sans-serif" text-anchor="middle" fill="#383838" letter-spacing="0.12">PIK3R1</text>
<circle cx="305.3" cy="109.5" r="7.00" fill="#0AEE7C"/>
<text x="305.3" y="110.4" font-size="2.40" font-family="Liberation Sans, sans-serif" text-anchor="middle" fill="#383838" letter-spacing="0.12">CDH13</text>
<circle cx="324.1" cy="117.5" r="3.90" fill="#0AEE7C"/>
<text x="324.1" y="118.2" font-size="2.00" font-family="Liberation Sans, sans-serif" text-anchor="middle" fill="#383838" letter-spacing="0.12">CDH5</text>
<circle cx="308.2" cy="129.1" r="3.50" fill="#0AEE7C"/>
<text x="308.2" y="129.9" font-size="2.35" font-family="Liberation Sans, sans-serif" text-anchor="middle" fill="#383838" letter-spacing="0.12">PRKCB</text>
<circle cx="379.1" cy="131.3" r="2.40" fill="#F65656"/>
<text x="379.1" y="132.1" font-size="2.35" font-family="Liberation Sans, sans-serif" text-anchor="middle" fill="#383838" letter-spacing="0.12">ADM</text>
<circle cx="370.0" cy="133.6" r="2.40" fill="#F65656"/>
<text x="370.0" y="134.4" font-size="2.35" font-family="Liberation Sans, sans-serif" text-anchor="middle" fill="#383838" letter-spacing="0.12">CCR7</text>
<circle cx="394.2" cy="134.2" r="2.40" fill="#F65656"/>
<text x="394.2" y="135.0" font-size="2.35" font-family="Liberation Sans, sans-serif" text-anchor="middle" fill="#383838" letter-spacing="0.12">P2RY14</text>
<circle cx="386.4" cy="137.8" r="2.40" fill="#F65656"/>
<text x="386.4" y="138.6" font-size="2.35" font-family="Liberation Sans, sans-serif" text-anchor="middle" fill="#383838" letter-spacing="0.12">HTR2B</text>
<circle cx="360.0" cy="139.1" r="2.40" fill="#F65656"/>
<text x="360.0" y="139.9" font-size="2.35" font-family="Liberation Sans, sans-serif" text-anchor="middle" fill="#383838" letter-spacing="0.12">GRK5</text>
<circle cx="371.3" cy="141.5" r="2.40" fill="#F65656"/>
<text x="371.3" y="142.3" font-size="2.35" font-family="Liberation Sans, sans-serif" text-anchor="middle" fill="#383838" letter-spacing="0.12">ARRB1</text>
<circle cx="407.3" cy="139.6" r="2.40" fill="#F65656"/>
<text x="407.3" y="140.4" font-size="2.35" font-family="Liberation Sans, sans-serif" text-anchor="middle" fill="#383838" letter-spacing="0.12">FPR1</text>
<circle cx="397.3" cy="143.3" r="2.40" fill="#F65656"/>
<text x="397.3" y="144.1" font-size="2.35" font-family="Liberation Sans, sans-serif" text-anchor="middle" fill="#383838" letter-spacing="0.12">C5AR1</text>
<circle cx="349.1" cy="148.2" r="2.40" fill="#F65656"/>
<text x="349.1" y="149.0" font-size="2.35" font-family="Liberation Sans, sans-serif" text-anchor="middle" fill="#383838" letter-spacing="0.12">PTAFR</text>
<circle cx="358.2" cy="148.2" r="2.40" fill="#F65656"/>
<text x="358.2" y="149.0" font-size="2.35" font-family="Liberation Sans, sans-serif" text-anchor="middle" fill="#383838" letter-spacing="0.12">SSTR2</text>
<circle cx="372.7" cy="148.7" r="2.40" fill="#F65656"/>
<text x="372.7" y="149.5" font-size="2.35" font-family="Liberation Sans, sans-serif" text-anchor="middle" fill="#383838" letter-spacing="0.12">TSHR</text>
<circle cx="383.6" cy="148.2" r="2.40" fill="#F65656"/>
<text x="383.6" y="149.0" font-size="2.35" font-family="Liberation Sans, sans-serif" text-anchor="middle" fill="#383838" letter-spacing="0.12">GPR116</text>
<circle cx="409.1" cy="149.1" r="2.40" fill="#F65656"/>
<text x="409.1" y="149.9" font-size="2.35" font-family="Liberation Sans, sans-serif" text-anchor="middle" fill="#383838" letter-spacing="0.12">EDNRB</text>
<circle cx="390.5" cy="152.7" r="2.40" fill="#F65656"/>
<text x="390.5" y="153.5" font-size="2.35" font-family="Liberation Sans, sans-serif" text-anchor="middle" fill="#383838" letter-spacing="0.12">NTSR1</text>
<circle cx="399.6" cy="152.7" r="2.40" fill="#F65656"/>
<text x="399.6" y="153.5" font-size="2.35" font-family="Liberation Sans, sans-serif" text-anchor="middle" fill="#383838" letter-spacing="0.12">OXTR</text>
<circle cx="366.9" cy="154.2" r="2.40" fill="#F65656"/>
<text x="366.9" y="155.0" font-size="2.35" font-family="Liberation Sans, sans-serif" text-anchor="middle" fill="#383838" letter-spacing="0.12">GLP1R</text>
<circle cx="356.4" cy="155.5" r="2.40" fill="#F65656"/>
<text x="356.4" y="156.3" font-size="2.35" font-family="Liberation Sans, sans-serif" text-anchor="middle" fill="#383838" letter-spacing="0.12">CNR2</text>
<circle cx="410.0" cy="157.3" r="2.40" fill="#F65656"/>
<text x="410.0" y="158.1" font-size="2.35" font-family="Liberation Sans, sans-serif" text-anchor="middle" fill="#383838" letter-spacing="0.12">LPAR6</text>
<circle cx="345.5" cy="161.5" r="2.40" fill="#F65656"/>
<text x="345.5" y="162.3" font-size="2.35" font-family="Liberation Sans, sans-serif" text-anchor="middle" fill="#383838" letter-spacing="0.12">CHRM3</text>
<circle cx="365.5" cy="160.4" r="2.40" fill="#F65656"/>
<text x="365.5" y="161.2" font-size="2.35" font-family="Liberation Sans, sans-serif" text-anchor="middle" fill="#383838" letter-spacing="0.12">ADRB2</text>
<circle cx="390.5" cy="162.7" r="2.40" fill="#F65656"/>
<text x="390.5" y="163.5" font-size="2.35" font-family="Liberation Sans, sans-serif" text-anchor="middle" fill="#383838" letter-spacing="0.12">GNG11</text>
<circle cx="403.6" cy="161.5" r="2.40" fill="#F65656"/>
<text x="403.6" y="162.3" font-size="2.35" font-family="Liberation Sans, sans-serif" text-anchor="middle" fill="#383838" letter-spacing="0.12">GNAI2</text>
<circle cx="414.5" cy="162.2" r="2.40" fill="#F65656"/>
<text x="414.5" y="163.0" font-size="2.35" font-family="Liberation Sans, sans-serif" text-anchor="middle" fill="#383838" letter-spacing="0.12">CXCL12</text>
<circle cx="355.5" cy="165.8" r="2.40" fill="#F65656"/>
<text x="355.5" y="166.6" font-size="2.35" font-family="Liberation Sans, sans-serif" text-anchor="middle" fill="#383838" letter-spacing="0.12">EDN1</text>
<circle cx="364.0" cy="167.6" r="2.40" fill="#F65656"/>
<text x="364.0" y="168.4" font-size="2.35" font-family="Liberation Sans, sans-serif" text-anchor="middle" fill="#383838" letter-spacing="0.12">AGTR1</text>
<circle cx="397.8" cy="167.6" r="2.40" fill="#F65656"/>
<text x="397.8" y="168.4" font-size="2.35" font-family="Liberation Sans, sans-serif" text-anchor="middle" fill="#383838" letter-spacing="0.12">S1PR1</text>
<circle cx="410.9" cy="168.7" r="2.40" fill="#F65656"/>
<text x="410.9" y="169.5" font-size="2.35" font-family="Liberation Sans, sans-serif" text-anchor="middle" fill="#383838" letter-spacing="0.12">LPAR1</text>
<circle cx="350.9" cy="177.3" r="2.40" fill="#F65656"/>
<text x="350.9" y="178.1" font-size="2.35" font-family="Liberation Sans, sans-serif" text-anchor="middle" fill="#383838" letter-spacing="0.12">F2R</text>
<circle cx="360.0" cy="174.2" r="2.40" fill="#F65656"/>
<text x="360.0" y="175.0" font-size="2.35" font-family="Liberation Sans, sans-serif" text-anchor="middle" fill="#383838" letter-spacing="0.12">GPR4</text>
<circle cx="374.5" cy="173.1" r="2.40" fill="#F65656"/>
<text x="374.5" y="173.9" font-size="2.35" font-family="Liberation Sans, sans-serif" text-anchor="middle" fill="#383838" letter-spacing="0.12">CCL2</text>
<circle cx="383.6" cy="171.8" r="2.40" fill="#F65656"/>
<text x="383.6" y="172.6" font-size="2.35" font-family="Liberation Sans, sans-serif" text-anchor="middle" fill="#383838" letter-spacing="0.12">CXCL8</text>
<circle cx="394.2" cy="174.2" r="2.40" fill="#F65656"/>
<text x="394.2" y="175.0" font-size="2.35" font-family="Liberation Sans, sans-serif" text-anchor="middle" fill="#383838" letter-spacing="0.12">PTGER4</text>
<circle cx="402.7" cy="172.7" r="2.40" fill="#F65656"/>
<text x="402.7" y="173.5" font-size="2.35" font-family="Liberation Sans, sans-serif" text-anchor="middle" fill="#383838" letter-spacing="0.12">ADCY4</text>
<circle cx="381.5" cy="180.4" r="2.40" fill="#F65656"/>
<text x="381.5" y="181.2" font-size="2.35" font-family="Liberation Sans, sans-serif" text-anchor="middle" fill="#383838" letter-spacing="0.12">RGS2</text>
<circle cx="369.1" cy="181.8" r="2.40" fill="#F65656"/>
<text x="369.1" y="182.6" font-size="2.35" font-family="Liberation Sans, sans-serif" text-anchor="middle" fill="#383838" letter-spacing="0.12">CALCRL</text>
<circle cx="359.6" cy="183.3" r="2.40" fill="#F65656"/>
<text x="359.6" y="184.1" font-size="2.35" font-family="Liberation Sans, sans-serif" text-anchor="middle" fill="#383838" letter-spacing="0.12">RAMP2</text>
<circle cx="393.6" cy="182.7" r="2.40" fill="#F65656"/>
<text x="393.6" y="183.5" font-size="2.35" font-family="Liberation Sans, sans-serif" text-anchor="middle" fill="#383838" letter-spacing="0.12">NPR1</text>
<circle cx="367.3" cy="187.3" r="2.40" fill="#F65656"/>
<text x="367.3" y="188.1" font-size="2.35" font-family="Liberation Sans, sans-serif" text-anchor="middle" fill="#383838" letter-spacing="0.12">VIPR1</text>
<circle cx="376.0" cy="188.2" r="2.40" fill="#F65656"/>
<text x="376.0" y="189.0" font-size="2.35" font-family="Liberation Sans, sans-serif" text-anchor="middle" fill="#383838" letter-spacing="0.12">APLNR</text>
<circle cx="387.3" cy="188.2" r="2.40" fill="#F65656"/>
<text x="387.3" y="189.0" font-size="2.35" font-family="Liberation Sans, sans-serif" text-anchor="middle" fill="#383838" letter-spacing="0.12">GNAQ</text>
<circle cx="400.0" cy="187.6" r="2.40" fill="#F65656"/>
<text x="400.0" y="188.4" font-size="2.35" font-family="Liberation Sans, sans-serif" text-anchor="middle" fill="#383838" letter-spacing="0.12">PIK3R1</text>
<circle cx="381.5" cy="156.0" r="6.90" fill="#F65656"/>
<text x="381.5" y="156.9" font-size="2.60" font-family="Liberation Sans, sans-serif" text-anchor="middle" fill="#383838" letter-spacing="0.12">PCNA</text>
<circle cx="374.5" cy="165.1" r="6.90" fill="#F65656"/>
<text x="374.5" y="166.0" font-size="2.60" font-family="Liberation Sans, sans-serif" text-anchor="middle" fill="#383838" letter-spacing="0.12">BIRC5</text>
<circle cx="407.6" cy="181.5" r="7.60" fill="#F65656"/>
<text x="407.6" y="182.4" font-size="2.40" font-family="Liberation Sans, sans-serif" text-anchor="middle" fill="#383838" letter-spacing="0.12">GADD45B</text>
<text x="254.2" y="39.3" font-size="6.0" font-weight="bold" fill="#343434" stroke="#343434" stroke-width="0.1" textLength="69.1" lengthAdjust="spacing">G protein-coupled receptor</text>
<text x="254.2" y="45.6" font-size="6.0" font-weight="bold" fill="#343434" stroke="#343434" stroke-width="0.1" textLength="45.8" lengthAdjust="spacing">signaling pathway</text>
<text x="475.4" y="46.6" font-size="6.0" font-weight="bold" fill="#343434" stroke="#343434" stroke-width="0.1" textLength="50.6" lengthAdjust="spacing">extracellular matrix</text>
<text x="262.3" y="92.0" font-size="6.0" font-weight="bold" fill="#343434" stroke="#343434" stroke-width="0.1" textLength="64.3" lengthAdjust="spacing">endothelial cell migration</text>
<text x="385.7" y="110.7" font-size="6.0" font-weight="bold" fill="#343434" stroke="#343434" stroke-width="0.1" textLength="59.9" lengthAdjust="spacing">complement activation and</text>
<text x="385.7" y="116.6" font-size="6.0" font-weight="bold" fill="#343434" stroke="#343434" stroke-width="0.1" textLength="55.6" lengthAdjust="spacing">neutrophil degranulation</text>
<text x="491" y="106" font-size="6.0" font-weight="bold" fill="#343434" stroke="#343434" stroke-width="0.1" textLength="45" lengthAdjust="spacing">post-translational</text>
<text x="491" y="113" font-size="6.0" font-weight="bold" fill="#343434" stroke="#343434" stroke-width="0.1" textLength="52" lengthAdjust="spacing">protein modification</text>
<text x="248" y="129.1" font-size="6.0" font-weight="bold" fill="#343434" stroke="#343434" stroke-width="0.1" textLength="45.7" lengthAdjust="spacing">adherens junction</text>
<text x="483.6" y="162.6" font-size="6.0" font-weight="bold" fill="#343434" stroke="#343434" stroke-width="0.1" textLength="35.8" lengthAdjust="spacing">stress reaction</text>
<text x="321.4" y="182.9" font-size="6.0" font-weight="bold" fill="#343434" stroke="#343434" stroke-width="0.1" textLength="18" lengthAdjust="spacing">mitosis</text>
<text x="9.3" y="211.4" font-size="12.4" font-weight="bold" fill="#111">(c)</text>
<text x="275" y="218" font-size="10.5" font-weight="bold" text-anchor="middle" fill="#111" stroke="#111" stroke-width="0.3" textLength="203.3" lengthAdjust="spacingAndGlyphs">Frequency distribution in 10.000 times sampling</text>
<line x1="16.3" y1="242.6" x2="16.3" y2="307.7" stroke="#8f8f8f" stroke-width="0.45"/>
<line x1="15.0" y1="242.60" x2="16.3" y2="242.60" stroke="#8f8f8f" stroke-width="0.4"/>
<text transform="translate(12.70 242.60) rotate(-90)" font-size="2.7" text-anchor="middle" fill="#333" stroke="#333" stroke-width="0.1">60</text>
<line x1="15.0" y1="264.30" x2="16.3" y2="264.30" stroke="#8f8f8f" stroke-width="0.4"/>
<text transform="translate(12.70 264.30) rotate(-90)" font-size="2.7" text-anchor="middle" fill="#333" stroke="#333" stroke-width="0.1">40</text>
<line x1="15.0" y1="286.00" x2="16.3" y2="286.00" stroke="#8f8f8f" stroke-width="0.4"/>
<text transform="translate(12.70 286.00) rotate(-90)" font-size="2.7" text-anchor="middle" fill="#333" stroke="#333" stroke-width="0.1">20</text>
<line x1="15.0" y1="307.70" x2="16.3" y2="307.70" stroke="#8f8f8f" stroke-width="0.4"/>
<text transform="translate(12.70 307.70) rotate(-90)" font-size="2.7" text-anchor="middle" fill="#333" stroke="#333" stroke-width="0.1">0</text>
<line x1="17" y1="311.4" x2="139.5" y2="311.4" stroke="#8f8f8f" stroke-width="0.45"/>
<line x1="22.10" y1="311.4" x2="22.10" y2="312.59999999999997" stroke="#8f8f8f" stroke-width="0.35"/>
<text x="22.10" y="316.40" font-size="2.8" text-anchor="middle" fill="#333" stroke="#333" stroke-width="0.08">-90</text>
<line x1="32.80" y1="311.4" x2="32.80" y2="312.59999999999997" stroke="#8f8f8f" stroke-width="0.35"/>
<text x="32.80" y="316.40" font-size="2.8" text-anchor="middle" fill="#333" stroke="#333" stroke-width="0.08">-80</text>
<line x1="43.50" y1="311.4" x2="43.50" y2="312.59999999999997" stroke="#8f8f8f" stroke-width="0.35"/>
<text x="43.50" y="316.40" font-size="2.8" text-anchor="middle" fill="#333" stroke="#333" stroke-width="0.08">-70</text>
<line x1="54.20" y1="311.4" x2="54.20" y2="312.59999999999997" stroke="#8f8f8f" stroke-width="0.35"/>
<text x="54.20" y="316.40" font-size="2.8" text-anchor="middle" fill="#333" stroke="#333" stroke-width="0.08">-60</text>
<line x1="64.90" y1="311.4" x2="64.90" y2="312.59999999999997" stroke="#8f8f8f" stroke-width="0.35"/>
<text x="64.90" y="316.40" font-size="2.8" text-anchor="middle" fill="#333" stroke="#333" stroke-width="0.08">-50</text>
<line x1="75.60" y1="311.4" x2="75.60" y2="312.59999999999997" stroke="#8f8f8f" stroke-width="0.35"/>
<text x="75.60" y="316.40" font-size="2.8" text-anchor="middle" fill="#333" stroke="#333" stroke-width="0.08">-40</text>
<line x1="86.30" y1="311.4" x2="86.30" y2="312.59999999999997" stroke="#8f8f8f" stroke-width="0.35"/>
<text x="86.30" y="316.40" font-size="2.8" text-anchor="middle" fill="#333" stroke="#333" stroke-width="0.08">-30</text>
<line x1="97.00" y1="311.4" x2="97.00" y2="312.59999999999997" stroke="#8f8f8f" stroke-width="0.35"/>
<text x="97.00" y="316.40" font-size="2.8" text-anchor="middle" fill="#333" stroke="#333" stroke-width="0.08">-20</text>
<line x1="107.70" y1="311.4" x2="107.70" y2="312.59999999999997" stroke="#8f8f8f" stroke-width="0.35"/>
<text x="107.70" y="316.40" font-size="2.8" text-anchor="middle" fill="#333" stroke="#333" stroke-width="0.08">-10</text>
<line x1="118.40" y1="311.4" x2="118.40" y2="312.59999999999997" stroke="#8f8f8f" stroke-width="0.35"/>
<text x="118.40" y="316.40" font-size="2.8" text-anchor="middle" fill="#333" stroke="#333" stroke-width="0.08">0</text>
<line x1="129.10" y1="311.4" x2="129.10" y2="312.59999999999997" stroke="#8f8f8f" stroke-width="0.35"/>
<text x="129.10" y="316.40" font-size="2.8" text-anchor="middle" fill="#333" stroke="#333" stroke-width="0.08">10</text>
<line x1="139.80" y1="311.4" x2="139.80" y2="312.59999999999997" stroke="#8f8f8f" stroke-width="0.35"/>
<text x="139.80" y="316.40" font-size="2.8" text-anchor="middle" fill="#333" stroke="#333" stroke-width="0.08">20</text>
<path d="M19.00 308.4V307.90H20.67V308.4ZM22.30 308.4V307.90H23.97V308.4ZM25.60 308.4V307.90H27.27V308.4ZM28.90 308.4V307.90H30.57V308.4ZM32.20 308.4V307.90H33.87V308.4ZM35.50 308.4V307.90H37.17V308.4ZM38.80 308.4V307.90H40.47V308.4ZM42.10 308.4V307.90H43.77V308.4ZM45.40 308.4V307.90H47.07V308.4ZM48.70 308.4V306.25H50.37V308.4ZM52.00 308.4V306.00H53.67V308.4ZM55.30 308.4V305.54H56.97V308.4ZM58.60 308.4V305.56H60.27V308.4ZM61.90 308.4V305.44H63.57V308.4ZM65.20 308.4V303.51H66.87V308.4ZM68.50 308.4V301.39H70.17V308.4ZM71.80 308.4V297.01H73.47V308.4ZM75.10 308.4V293.89H76.77V308.4ZM78.40 308.4V288.77H80.07V308.4ZM81.70 308.4V284.94H83.37V308.4ZM85.00 308.4V282.00H86.67V308.4ZM88.30 308.4V271.18H89.97V308.4ZM91.60 308.4V258.72H93.27V308.4ZM94.90 308.4V249.13H96.57V308.4ZM98.20 308.4V237.07H99.87V308.4ZM101.50 308.4V226.20H103.17V308.4ZM104.80 308.4V228.05H106.47V308.4ZM108.10 308.4V237.53H109.77V308.4ZM111.40 308.4V247.80H113.07V308.4ZM114.70 308.4V263.42H116.37V308.4ZM118.00 308.4V278.64H119.67V308.4ZM121.30 308.4V287.95H122.97V308.4ZM124.60 308.4V299.14H126.27V308.4ZM127.90 308.4V304.74H129.57V308.4ZM131.20 308.4V306.43H132.87V308.4ZM134.50 308.4V307.49H136.17V308.4ZM137.80 308.4V307.90H139.47V308.4Z" fill="#C3C3C3"/>
<path d="M20.65 308.4V307.90H22.32V308.4ZM23.95 308.4V307.90H25.62V308.4ZM27.25 308.4V307.90H28.92V308.4ZM30.55 308.4V307.90H32.22V308.4ZM33.85 308.4V307.90H35.52V308.4ZM37.15 308.4V307.90H38.82V308.4ZM40.45 308.4V307.90H42.12V308.4ZM43.75 308.4V307.90H45.42V308.4ZM47.05 308.4V306.00H48.72V308.4ZM50.35 308.4V306.12H52.02V308.4ZM53.65 308.4V306.20H55.32V308.4ZM56.95 308.4V305.59H58.62V308.4ZM60.25 308.4V305.52H61.92V308.4ZM63.55 308.4V304.22H65.22V308.4ZM66.85 308.4V302.49H68.52V308.4ZM70.15 308.4V299.11H71.82V308.4ZM73.45 308.4V295.51H75.12V308.4ZM76.75 308.4V291.97H78.42V308.4ZM80.05 308.4V286.75H81.72V308.4ZM83.35 308.4V282.92H85.02V308.4ZM86.65 308.4V278.94H88.32V308.4ZM89.95 308.4V262.92H91.62V308.4ZM93.25 308.4V253.16H94.92V308.4ZM96.55 308.4V243.82H98.22V308.4ZM99.85 308.4V230.43H101.52V308.4ZM103.15 308.4V230.04H104.82V308.4ZM106.45 308.4V228.00H108.12V308.4ZM109.75 308.4V238.10H111.42V308.4ZM113.05 308.4V254.53H114.72V308.4ZM116.35 308.4V272.46H118.02V308.4ZM119.65 308.4V283.23H121.32V308.4ZM122.95 308.4V294.30H124.62V308.4ZM126.25 308.4V302.07H127.92V308.4ZM129.55 308.4V305.54H131.22V308.4ZM132.85 308.4V307.05H134.52V308.4ZM136.15 308.4V307.87H137.82V308.4Z" fill="#B5B5B5"/>
<line x1="121" y1="224.5" x2="121" y2="311.8" stroke="#A8A8F8" stroke-width="1.15"/>
<text x="29.1" y="238.2" font-size="4.4" fill="#2a2a2a" stroke="#2a2a2a" stroke-width="0.08">M1</text>
<text x="29.1" y="243.7" font-size="4.4" fill="#2a2a2a" stroke="#2a2a2a" stroke-width="0.08">p value:0.0471</text>
<line x1="148.2" y1="235.6" x2="148.2" y2="308.1" stroke="#8f8f8f" stroke-width="0.45"/>
<line x1="146.89999999999998" y1="235.60" x2="148.2" y2="235.60" stroke="#8f8f8f" stroke-width="0.4"/>
<text transform="translate(144.60 235.60) rotate(-90)" font-size="2.7" text-anchor="middle" fill="#333" stroke="#333" stroke-width="0.1">100</text>
<line x1="146.89999999999998" y1="250.10" x2="148.2" y2="250.10" stroke="#8f8f8f" stroke-width="0.4"/>
<text transform="translate(144.60 250.10) rotate(-90)" font-size="2.7" text-anchor="middle" fill="#333" stroke="#333" stroke-width="0.1">80</text>
<line x1="146.89999999999998" y1="264.60" x2="148.2" y2="264.60" stroke="#8f8f8f" stroke-width="0.4"/>
<text transform="translate(144.60 264.60) rotate(-90)" font-size="2.7" text-anchor="middle" fill="#333" stroke="#333" stroke-width="0.1">60</text>
<line x1="146.89999999999998" y1="279.10" x2="148.2" y2="279.10" stroke="#8f8f8f" stroke-width="0.4"/>
<text transform="translate(144.60 279.10) rotate(-90)" font-size="2.7" text-anchor="middle" fill="#333" stroke="#333" stroke-width="0.1">40</text>
<line x1="146.89999999999998" y1="293.60" x2="148.2" y2="293.60" stroke="#8f8f8f" stroke-width="0.4"/>
<text transform="translate(144.60 293.60) rotate(-90)" font-size="2.7" text-anchor="middle" fill="#333" stroke="#333" stroke-width="0.1">20</text>
<line x1="146.89999999999998" y1="308.10" x2="148.2" y2="308.10" stroke="#8f8f8f" stroke-width="0.4"/>
<text transform="translate(144.60 308.10) rotate(-90)" font-size="2.7" text-anchor="middle" fill="#333" stroke="#333" stroke-width="0.1">0</text>
<line x1="148.5" y1="311.2" x2="272.5" y2="311.2" stroke="#8f8f8f" stroke-width="0.45"/>
<line x1="153.00" y1="311.2" x2="153.00" y2="312.4" stroke="#8f8f8f" stroke-width="0.35"/>
<text x="153.00" y="316.20" font-size="2.8" text-anchor="middle" fill="#333" stroke="#333" stroke-width="0.08">-60</text>
<line x1="171.30" y1="311.2" x2="171.30" y2="312.4" stroke="#8f8f8f" stroke-width="0.35"/>
<text x="171.30" y="316.20" font-size="2.8" text-anchor="middle" fill="#333" stroke="#333" stroke-width="0.08">-40</text>
<line x1="189.60" y1="311.2" x2="189.60" y2="312.4" stroke="#8f8f8f" stroke-width="0.35"/>
<text x="189.60" y="316.20" font-size="2.8" text-anchor="middle" fill="#333" stroke="#333" stroke-width="0.08">-20</text>
<line x1="207.90" y1="311.2" x2="207.90" y2="312.4" stroke="#8f8f8f" stroke-width="0.35"/>
<text x="207.90" y="316.20" font-size="2.8" text-anchor="middle" fill="#333" stroke="#333" stroke-width="0.08">0</text>
<line x1="226.20" y1="311.2" x2="226.20" y2="312.4" stroke="#8f8f8f" stroke-width="0.35"/>
<text x="226.20" y="316.20" font-size="2.8" text-anchor="middle" fill="#333" stroke="#333" stroke-width="0.08">20</text>
<line x1="244.50" y1="311.2" x2="244.50" y2="312.4" stroke="#8f8f8f" stroke-width="0.35"/>
<text x="244.50" y="316.20" font-size="2.8" text-anchor="middle" fill="#333" stroke="#333" stroke-width="0.08">40</text>
<line x1="262.80" y1="311.2" x2="262.80" y2="312.4" stroke="#8f8f8f" stroke-width="0.35"/>
<text x="262.80" y="316.20" font-size="2.8" text-anchor="middle" fill="#333" stroke="#333" stroke-width="0.08">60</text>
<path d="M150.00 308.4V307.90H151.67V308.4ZM153.30 308.4V307.90H154.97V308.4ZM156.60 308.4V307.90H158.27V308.4ZM159.90 308.4V307.90H161.57V308.4ZM163.20 308.4V307.90H164.87V308.4ZM166.50 308.4V307.90H168.17V308.4ZM169.80 308.4V307.90H171.47V308.4ZM173.10 308.4V306.97H174.77V308.4ZM176.40 308.4V306.41H178.07V308.4ZM179.70 308.4V306.35H181.37V308.4ZM183.00 308.4V305.81H184.67V308.4ZM186.30 308.4V304.92H187.97V308.4ZM189.60 308.4V302.36H191.27V308.4ZM192.90 308.4V299.95H194.57V308.4ZM196.20 308.4V295.00H197.87V308.4ZM199.50 308.4V289.75H201.17V308.4ZM202.80 308.4V283.41H204.47V308.4ZM206.10 308.4V277.09H207.77V308.4ZM209.40 308.4V268.61H211.07V308.4ZM212.70 308.4V258.09H214.37V308.4ZM216.00 308.4V247.50H217.67V308.4ZM219.30 308.4V246.98H220.97V308.4ZM222.60 308.4V228.96H224.27V308.4ZM225.90 308.4V227.49H227.57V308.4ZM229.20 308.4V235.58H230.87V308.4ZM232.50 308.4V237.02H234.17V308.4ZM235.80 308.4V247.02H237.47V308.4ZM239.10 308.4V265.31H240.77V308.4ZM242.40 308.4V274.39H244.07V308.4ZM245.70 308.4V283.27H247.37V308.4ZM249.00 308.4V292.15H250.67V308.4ZM252.30 308.4V295.64H253.97V308.4ZM255.60 308.4V301.35H257.27V308.4ZM258.90 308.4V303.91H260.57V308.4ZM262.20 308.4V305.61H263.87V308.4ZM265.50 308.4V307.03H267.17V308.4ZM268.80 308.4V307.90H270.47V308.4Z" fill="#C3C3C3"/>
<path d="M151.65 308.4V307.90H153.32V308.4ZM154.95 308.4V307.90H156.62V308.4ZM158.25 308.4V307.90H159.92V308.4ZM161.55 308.4V307.90H163.22V308.4ZM164.85 308.4V307.90H166.52V308.4ZM168.15 308.4V307.90H169.82V308.4ZM171.45 308.4V307.62H173.12V308.4ZM174.75 308.4V306.72H176.42V308.4ZM178.05 308.4V306.39H179.72V308.4ZM181.35 308.4V306.36H183.02V308.4ZM184.65 308.4V305.06H186.32V308.4ZM187.95 308.4V304.70H189.62V308.4ZM191.25 308.4V300.83H192.92V308.4ZM194.55 308.4V297.80H196.22V308.4ZM197.85 308.4V292.05H199.52V308.4ZM201.15 308.4V286.52H202.82V308.4ZM204.45 308.4V280.99H206.12V308.4ZM207.75 308.4V273.68H209.42V308.4ZM211.05 308.4V262.63H212.72V308.4ZM214.35 308.4V250.99H216.02V308.4ZM217.65 308.4V246.61H219.32V308.4ZM220.95 308.4V233.40H222.62V308.4ZM224.25 308.4V226.60H225.92V308.4ZM227.55 308.4V231.39H229.22V308.4ZM230.85 308.4V237.20H232.52V308.4ZM234.15 308.4V244.63H235.82V308.4ZM237.45 308.4V256.54H239.12V308.4ZM240.75 308.4V270.52H242.42V308.4ZM244.05 308.4V279.16H245.72V308.4ZM247.35 308.4V287.76H249.02V308.4ZM250.65 308.4V294.02H252.32V308.4ZM253.95 308.4V298.48H255.62V308.4ZM257.25 308.4V303.09H258.92V308.4ZM260.55 308.4V304.76H262.22V308.4ZM263.85 308.4V306.31H265.52V308.4ZM267.15 308.4V307.61H268.82V308.4Z" fill="#B5B5B5"/>
<line x1="249.6" y1="224.5" x2="249.6" y2="311.8" stroke="#A8A8F8" stroke-width="1.15"/>
<text x="160.9" y="239.0" font-size="4.4" fill="#2a2a2a" stroke="#2a2a2a" stroke-width="0.08">M1+M2</text>
<text x="160.9" y="244.5" font-size="4.4" fill="#2a2a2a" stroke="#2a2a2a" stroke-width="0.08">p value:0.0421</text>
<line x1="282.8" y1="226" x2="282.8" y2="308.3" stroke="#8f8f8f" stroke-width="0.45"/>
<line x1="281.5" y1="226.00" x2="282.8" y2="226.00" stroke="#8f8f8f" stroke-width="0.4"/>
<text transform="translate(279.20 226.00) rotate(-90)" font-size="2.7" text-anchor="middle" fill="#333" stroke="#333" stroke-width="0.1">120</text>
<line x1="281.5" y1="239.70" x2="282.8" y2="239.70" stroke="#8f8f8f" stroke-width="0.4"/>
<text transform="translate(279.20 239.70) rotate(-90)" font-size="2.7" text-anchor="middle" fill="#333" stroke="#333" stroke-width="0.1">100</text>
<line x1="281.5" y1="253.50" x2="282.8" y2="253.50" stroke="#8f8f8f" stroke-width="0.4"/>
<text transform="translate(279.20 253.50) rotate(-90)" font-size="2.7" text-anchor="middle" fill="#333" stroke="#333" stroke-width="0.1">80</text>
<line x1="281.5" y1="267.30" x2="282.8" y2="267.30" stroke="#8f8f8f" stroke-width="0.4"/>
<text transform="translate(279.20 267.30) rotate(-90)" font-size="2.7" text-anchor="middle" fill="#333" stroke="#333" stroke-width="0.1">60</text>
<line x1="281.5" y1="281.00" x2="282.8" y2="281.00" stroke="#8f8f8f" stroke-width="0.4"/>
<text transform="translate(279.20 281.00) rotate(-90)" font-size="2.7" text-anchor="middle" fill="#333" stroke="#333" stroke-width="0.1">40</text>
<line x1="281.5" y1="294.70" x2="282.8" y2="294.70" stroke="#8f8f8f" stroke-width="0.4"/>
<text transform="translate(279.20 294.70) rotate(-90)" font-size="2.7" text-anchor="middle" fill="#333" stroke="#333" stroke-width="0.1">20</text>
<line x1="281.5" y1="308.30" x2="282.8" y2="308.30" stroke="#8f8f8f" stroke-width="0.4"/>
<text transform="translate(279.20 308.30) rotate(-90)" font-size="2.7" text-anchor="middle" fill="#333" stroke="#333" stroke-width="0.1">0</text>
<line x1="283" y1="311.2" x2="408.75" y2="311.2" stroke="#8f8f8f" stroke-width="0.45"/>
<line x1="290.50" y1="311.2" x2="290.50" y2="312.4" stroke="#8f8f8f" stroke-width="0.35"/>
<text x="290.50" y="316.20" font-size="2.8" text-anchor="middle" fill="#333" stroke="#333" stroke-width="0.08">-40</text>
<line x1="311.50" y1="311.2" x2="311.50" y2="312.4" stroke="#8f8f8f" stroke-width="0.35"/>
<text x="311.50" y="316.20" font-size="2.8" text-anchor="middle" fill="#333" stroke="#333" stroke-width="0.08">-20</text>
<line x1="332.50" y1="311.2" x2="332.50" y2="312.4" stroke="#8f8f8f" stroke-width="0.35"/>
<text x="332.50" y="316.20" font-size="2.8" text-anchor="middle" fill="#333" stroke="#333" stroke-width="0.08">0</text>
<line x1="353.50" y1="311.2" x2="353.50" y2="312.4" stroke="#8f8f8f" stroke-width="0.35"/>
<text x="353.50" y="316.20" font-size="2.8" text-anchor="middle" fill="#333" stroke="#333" stroke-width="0.08">20</text>
<line x1="374.50" y1="311.2" x2="374.50" y2="312.4" stroke="#8f8f8f" stroke-width="0.35"/>
<text x="374.50" y="316.20" font-size="2.8" text-anchor="middle" fill="#333" stroke="#333" stroke-width="0.08">40</text>
<line x1="395.50" y1="311.2" x2="395.50" y2="312.4" stroke="#8f8f8f" stroke-width="0.35"/>
<text x="395.50" y="316.20" font-size="2.8" text-anchor="middle" fill="#333" stroke="#333" stroke-width="0.08">60</text>
<path d="M286.00 308.4V307.90H287.67V308.4ZM289.30 308.4V307.90H290.97V308.4ZM292.60 308.4V307.90H294.27V308.4ZM295.90 308.4V307.90H297.57V308.4ZM299.20 308.4V307.90H300.87V308.4ZM302.50 308.4V306.83H304.17V308.4ZM305.80 308.4V306.30H307.47V308.4ZM309.10 308.4V305.89H310.77V308.4ZM312.40 308.4V305.84H314.07V308.4ZM315.70 308.4V303.55H317.37V308.4ZM319.00 308.4V300.66H320.67V308.4ZM322.30 308.4V297.42H323.97V308.4ZM325.60 308.4V292.51H327.27V308.4ZM328.90 308.4V287.24H330.57V308.4ZM332.20 308.4V278.90H333.87V308.4ZM335.50 308.4V272.66H337.17V308.4ZM338.80 308.4V264.55H340.47V308.4ZM342.10 308.4V254.52H343.77V308.4ZM345.40 308.4V243.52H347.07V308.4ZM348.70 308.4V229.83H350.37V308.4ZM352.00 308.4V233.31H353.67V308.4ZM355.30 308.4V229.71H356.97V308.4ZM358.60 308.4V234.25H360.27V308.4ZM361.90 308.4V240.86H363.57V308.4ZM365.20 308.4V246.16H366.87V308.4ZM368.50 308.4V253.82H370.17V308.4ZM371.80 308.4V266.03H373.47V308.4ZM375.10 308.4V276.14H376.77V308.4ZM378.40 308.4V284.36H380.07V308.4ZM381.70 308.4V292.71H383.37V308.4ZM385.00 308.4V301.82H386.67V308.4ZM388.30 308.4V303.90H389.97V308.4ZM391.60 308.4V305.39H393.27V308.4ZM394.90 308.4V306.45H396.57V308.4ZM398.20 308.4V307.25H399.87V308.4ZM401.50 308.4V307.90H403.17V308.4Z" fill="#C3C3C3"/>
<path d="M287.65 308.4V307.90H289.32V308.4ZM290.95 308.4V307.90H292.62V308.4ZM294.25 308.4V307.90H295.92V308.4ZM297.55 308.4V307.90H299.22V308.4ZM300.85 308.4V307.55H302.52V308.4ZM304.15 308.4V306.62H305.82V308.4ZM307.45 308.4V305.97H309.12V308.4ZM310.75 308.4V305.84H312.42V308.4ZM314.05 308.4V304.71H315.72V308.4ZM317.35 308.4V302.16H319.02V308.4ZM320.65 308.4V298.87H322.32V308.4ZM323.95 308.4V295.29H325.62V308.4ZM327.25 308.4V290.72H328.92V308.4ZM330.55 308.4V283.22H332.22V308.4ZM333.85 308.4V275.97H335.52V308.4ZM337.15 308.4V267.55H338.82V308.4ZM340.45 308.4V261.29H342.12V308.4ZM343.75 308.4V248.30H345.42V308.4ZM347.05 308.4V235.36H348.72V308.4ZM350.35 308.4V230.19H352.02V308.4ZM353.65 308.4V231.19H355.32V308.4ZM356.95 308.4V234.38H358.62V308.4ZM360.25 308.4V237.63H361.92V308.4ZM363.55 308.4V243.73H365.22V308.4ZM366.85 308.4V247.78H368.52V308.4ZM370.15 308.4V261.44H371.82V308.4ZM373.45 308.4V269.90H375.12V308.4ZM376.75 308.4V279.99H378.42V308.4ZM380.05 308.4V287.82H381.72V308.4ZM383.35 308.4V297.85H385.02V308.4ZM386.65 308.4V302.73H388.32V308.4ZM389.95 308.4V304.59H391.62V308.4ZM393.25 308.4V306.02H394.92V308.4ZM396.55 308.4V306.83H398.22V308.4ZM399.85 308.4V307.68H401.52V308.4Z" fill="#B5B5B5"/>
<line x1="383.3" y1="226" x2="383.3" y2="311.8" stroke="#A8A8F8" stroke-width="1.15"/>
<text x="293.0" y="240.1" font-size="4.4" fill="#2a2a2a" stroke="#2a2a2a" stroke-width="0.08">M1+M2+M3</text>
<text x="293.0" y="245.6" font-size="4.4" fill="#2a2a2a" stroke="#2a2a2a" stroke-width="0.08">p value:0.0227</text>
<line x1="415.6" y1="234.5" x2="415.6" y2="308.3" stroke="#8f8f8f" stroke-width="0.45"/>
<line x1="414.3" y1="234.50" x2="415.6" y2="234.50" stroke="#8f8f8f" stroke-width="0.4"/>
<text transform="translate(412.00 234.50) rotate(-90)" font-size="2.7" text-anchor="middle" fill="#333" stroke="#333" stroke-width="0.1">120</text>
<line x1="414.3" y1="246.80" x2="415.6" y2="246.80" stroke="#8f8f8f" stroke-width="0.4"/>
<text transform="translate(412.00 246.80) rotate(-90)" font-size="2.7" text-anchor="middle" fill="#333" stroke="#333" stroke-width="0.1">100</text>
<line x1="414.3" y1="259.30" x2="415.6" y2="259.30" stroke="#8f8f8f" stroke-width="0.4"/>
<text transform="translate(412.00 259.30) rotate(-90)" font-size="2.7" text-anchor="middle" fill="#333" stroke="#333" stroke-width="0.1">80</text>
<line x1="414.3" y1="271.80" x2="415.6" y2="271.80" stroke="#8f8f8f" stroke-width="0.4"/>
<text transform="translate(412.00 271.80) rotate(-90)" font-size="2.7" text-anchor="middle" fill="#333" stroke="#333" stroke-width="0.1">60</text>
<line x1="414.3" y1="284.10" x2="415.6" y2="284.10" stroke="#8f8f8f" stroke-width="0.4"/>
<text transform="translate(412.00 284.10) rotate(-90)" font-size="2.7" text-anchor="middle" fill="#333" stroke="#333" stroke-width="0.1">40</text>
<line x1="414.3" y1="296.50" x2="415.6" y2="296.50" stroke="#8f8f8f" stroke-width="0.4"/>
<text transform="translate(412.00 296.50) rotate(-90)" font-size="2.7" text-anchor="middle" fill="#333" stroke="#333" stroke-width="0.1">20</text>
<line x1="414.3" y1="308.30" x2="415.6" y2="308.30" stroke="#8f8f8f" stroke-width="0.4"/>
<text transform="translate(412.00 308.30) rotate(-90)" font-size="2.7" text-anchor="middle" fill="#333" stroke="#333" stroke-width="0.1">0</text>
<line x1="415" y1="311.6" x2="543" y2="311.6" stroke="#8f8f8f" stroke-width="0.45"/>
<line x1="433.50" y1="311.6" x2="433.50" y2="312.8" stroke="#8f8f8f" stroke-width="0.35"/>
<text x="433.50" y="316.60" font-size="2.8" text-anchor="middle" fill="#333" stroke="#333" stroke-width="0.08">-40</text>
<line x1="457.50" y1="311.6" x2="457.50" y2="312.8" stroke="#8f8f8f" stroke-width="0.35"/>
<text x="457.50" y="316.60" font-size="2.8" text-anchor="middle" fill="#333" stroke="#333" stroke-width="0.08">-20</text>
<line x1="481.50" y1="311.6" x2="481.50" y2="312.8" stroke="#8f8f8f" stroke-width="0.35"/>
<text x="481.50" y="316.60" font-size="2.8" text-anchor="middle" fill="#333" stroke="#333" stroke-width="0.08">0</text>
<line x1="505.50" y1="311.6" x2="505.50" y2="312.8" stroke="#8f8f8f" stroke-width="0.35"/>
<text x="505.50" y="316.60" font-size="2.8" text-anchor="middle" fill="#333" stroke="#333" stroke-width="0.08">20</text>
<line x1="529.50" y1="311.6" x2="529.50" y2="312.8" stroke="#8f8f8f" stroke-width="0.35"/>
<text x="529.50" y="316.60" font-size="2.8" text-anchor="middle" fill="#333" stroke="#333" stroke-width="0.08">40</text>
<path d="M418.70 308.5V308.00H420.37V308.5ZM422.00 308.5V308.00H423.67V308.5ZM425.30 308.5V308.00H426.97V308.5ZM428.60 308.5V308.00H430.27V308.5ZM431.90 308.5V307.71H433.57V308.5ZM435.20 308.5V306.91H436.87V308.5ZM438.50 308.5V306.09H440.17V308.5ZM441.80 308.5V302.77H443.47V308.5ZM445.10 308.5V302.96H446.77V308.5ZM448.40 308.5V299.53H450.07V308.5ZM451.70 308.5V295.89H453.37V308.5ZM455.00 308.5V289.57H456.67V308.5ZM458.30 308.5V285.85H459.97V308.5ZM461.60 308.5V278.38H463.27V308.5ZM464.90 308.5V269.15H466.57V308.5ZM468.20 308.5V260.50H469.87V308.5ZM471.50 308.5V248.95H473.17V308.5ZM474.80 308.5V243.13H476.47V308.5ZM478.10 308.5V238.50H479.77V308.5ZM481.40 308.5V237.86H483.07V308.5ZM484.70 308.5V235.07H486.37V308.5ZM488.00 308.5V238.31H489.67V308.5ZM491.30 308.5V247.46H492.97V308.5ZM494.60 308.5V246.81H496.27V308.5ZM497.90 308.5V259.49H499.57V308.5ZM501.20 308.5V264.06H502.87V308.5ZM504.50 308.5V277.82H506.17V308.5ZM507.80 308.5V286.94H509.47V308.5ZM511.10 308.5V292.44H512.77V308.5ZM514.40 308.5V300.31H516.07V308.5ZM517.70 308.5V301.57H519.37V308.5ZM521.00 308.5V305.52H522.67V308.5ZM524.30 308.5V306.95H525.97V308.5ZM527.60 308.5V307.41H529.27V308.5ZM530.90 308.5V307.88H532.57V308.5ZM534.20 308.5V308.00H535.87V308.5ZM537.50 308.5V308.00H539.17V308.5Z" fill="#C3C3C3"/>
<path d="M420.35 308.5V308.00H422.02V308.5ZM423.65 308.5V308.00H425.32V308.5ZM426.95 308.5V308.00H428.62V308.5ZM430.25 308.5V308.00H431.92V308.5ZM433.55 308.5V306.99H435.22V308.5ZM436.85 308.5V306.59H438.52V308.5ZM440.15 308.5V304.96H441.82V308.5ZM443.45 308.5V303.65H445.12V308.5ZM446.75 308.5V301.23H448.42V308.5ZM450.05 308.5V297.89H451.72V308.5ZM453.35 308.5V293.19H455.02V308.5ZM456.65 308.5V287.92H458.32V308.5ZM459.95 308.5V284.43H461.62V308.5ZM463.25 308.5V269.63H464.92V308.5ZM466.55 308.5V266.16H468.22V308.5ZM469.85 308.5V257.76H471.52V308.5ZM473.15 308.5V245.93H474.82V308.5ZM476.45 308.5V239.85H478.12V308.5ZM479.75 308.5V237.93H481.42V308.5ZM483.05 308.5V230.71H484.72V308.5ZM486.35 308.5V235.35H488.02V308.5ZM489.65 308.5V243.15H491.32V308.5ZM492.95 308.5V249.11H494.62V308.5ZM496.25 308.5V265.41H497.92V308.5ZM499.55 308.5V261.06H501.22V308.5ZM502.85 308.5V273.02H504.52V308.5ZM506.15 308.5V282.05H507.82V308.5ZM509.45 308.5V290.14H511.12V308.5ZM512.75 308.5V296.64H514.42V308.5ZM516.05 308.5V300.97H517.72V308.5ZM519.35 308.5V302.25H521.02V308.5ZM522.65 308.5V306.69H524.32V308.5ZM525.95 308.5V307.21H527.62V308.5ZM529.25 308.5V307.66H530.92V308.5ZM532.55 308.5V308.00H534.22V308.5ZM535.85 308.5V308.00H537.52V308.5ZM539.15 308.5V308.00H540.82V308.5Z" fill="#B5B5B5"/>
<line x1="515.6" y1="224.5" x2="515.6" y2="311.8" stroke="#A8A8F8" stroke-width="1.15"/>
<text x="422" y="239.0" font-size="4.4" fill="#2a2a2a" stroke="#2a2a2a" stroke-width="0.08">M1+M2+M3+M4</text>
<text x="422" y="244.5" font-size="4.4" fill="#2a2a2a" stroke="#2a2a2a" stroke-width="0.08">p value:0.0203</text>
<line x1="16.3" y1="327.5" x2="16.3" y2="402.3" stroke="#8f8f8f" stroke-width="0.45"/>
<line x1="15.0" y1="327.50" x2="16.3" y2="327.50" stroke="#8f8f8f" stroke-width="0.4"/>
<text transform="translate(12.70 327.50) rotate(-90)" font-size="2.7" text-anchor="middle" fill="#333" stroke="#333" stroke-width="0.1">120</text>
<line x1="15.0" y1="340.00" x2="16.3" y2="340.00" stroke="#8f8f8f" stroke-width="0.4"/>
<text transform="translate(12.70 340.00) rotate(-90)" font-size="2.7" text-anchor="middle" fill="#333" stroke="#333" stroke-width="0.1">100</text>
<line x1="15.0" y1="352.50" x2="16.3" y2="352.50" stroke="#8f8f8f" stroke-width="0.4"/>
<text transform="translate(12.70 352.50) rotate(-90)" font-size="2.7" text-anchor="middle" fill="#333" stroke="#333" stroke-width="0.1">80</text>
<line x1="15.0" y1="364.90" x2="16.3" y2="364.90" stroke="#8f8f8f" stroke-width="0.4"/>
<text transform="translate(12.70 364.90) rotate(-90)" font-size="2.7" text-anchor="middle" fill="#333" stroke="#333" stroke-width="0.1">60</text>
<line x1="15.0" y1="377.50" x2="16.3" y2="377.50" stroke="#8f8f8f" stroke-width="0.4"/>
<text transform="translate(12.70 377.50) rotate(-90)" font-size="2.7" text-anchor="middle" fill="#333" stroke="#333" stroke-width="0.1">40</text>
<line x1="15.0" y1="389.90" x2="16.3" y2="389.90" stroke="#8f8f8f" stroke-width="0.4"/>
<text transform="translate(12.70 389.90) rotate(-90)" font-size="2.7" text-anchor="middle" fill="#333" stroke="#333" stroke-width="0.1">20</text>
<line x1="15.0" y1="402.30" x2="16.3" y2="402.30" stroke="#8f8f8f" stroke-width="0.4"/>
<text transform="translate(12.70 402.30) rotate(-90)" font-size="2.7" text-anchor="middle" fill="#333" stroke="#333" stroke-width="0.1">0</text>
<line x1="15.5" y1="405.7" x2="142.2" y2="405.7" stroke="#8f8f8f" stroke-width="0.45"/>
<line x1="32.50" y1="405.7" x2="32.50" y2="406.9" stroke="#8f8f8f" stroke-width="0.35"/>
<text x="32.50" y="411.20" font-size="2.8" text-anchor="middle" fill="#333" stroke="#333" stroke-width="0.08">-30</text>
<line x1="57.25" y1="405.7" x2="57.25" y2="406.9" stroke="#8f8f8f" stroke-width="0.35"/>
<text x="57.25" y="411.20" font-size="2.8" text-anchor="middle" fill="#333" stroke="#333" stroke-width="0.08">-20</text>
<line x1="82.00" y1="405.7" x2="82.00" y2="406.9" stroke="#8f8f8f" stroke-width="0.35"/>
<text x="82.00" y="411.20" font-size="2.8" text-anchor="middle" fill="#333" stroke="#333" stroke-width="0.08">-10</text>
<line x1="106.75" y1="405.7" x2="106.75" y2="406.9" stroke="#8f8f8f" stroke-width="0.35"/>
<text x="106.75" y="411.20" font-size="2.8" text-anchor="middle" fill="#333" stroke="#333" stroke-width="0.08">0</text>
<line x1="131.50" y1="405.7" x2="131.50" y2="406.9" stroke="#8f8f8f" stroke-width="0.35"/>
<text x="131.50" y="411.20" font-size="2.8" text-anchor="middle" fill="#333" stroke="#333" stroke-width="0.08">10</text>
<path d="M19.40 402.4V401.90H21.07V402.4ZM22.70 402.4V401.90H24.37V402.4ZM26.00 402.4V401.90H27.67V402.4ZM29.30 402.4V401.90H30.97V402.4ZM32.60 402.4V401.90H34.27V402.4ZM35.90 402.4V401.25H37.57V402.4ZM39.20 402.4V401.06H40.87V402.4ZM42.50 402.4V399.60H44.17V402.4ZM45.80 402.4V398.58H47.47V402.4ZM49.10 402.4V396.28H50.77V402.4ZM52.40 402.4V391.62H54.07V402.4ZM55.70 402.4V389.80H57.37V402.4ZM59.00 402.4V382.27H60.67V402.4ZM62.30 402.4V377.98H63.97V402.4ZM65.60 402.4V370.23H67.27V402.4ZM68.90 402.4V357.76H70.57V402.4ZM72.20 402.4V347.40H73.87V402.4ZM75.50 402.4V341.01H77.17V402.4ZM78.80 402.4V330.00H80.47V402.4ZM82.10 402.4V325.47H83.77V402.4ZM85.40 402.4V324.68H87.07V402.4ZM88.70 402.4V328.67H90.37V402.4ZM92.00 402.4V334.11H93.67V402.4ZM95.30 402.4V327.19H96.97V402.4ZM98.60 402.4V341.40H100.27V402.4ZM101.90 402.4V353.27H103.57V402.4ZM105.20 402.4V357.36H106.87V402.4ZM108.50 402.4V373.31H110.17V402.4ZM111.80 402.4V378.76H113.47V402.4ZM115.10 402.4V385.65H116.77V402.4ZM118.40 402.4V392.38H120.07V402.4ZM121.70 402.4V397.09H123.37V402.4ZM125.00 402.4V398.93H126.67V402.4ZM128.30 402.4V400.09H129.97V402.4ZM131.60 402.4V400.79H133.27V402.4ZM134.90 402.4V401.42H136.57V402.4ZM138.20 402.4V401.87H139.87V402.4Z" fill="#C3C3C3"/>
<path d="M21.05 402.4V401.90H22.72V402.4ZM24.35 402.4V401.90H26.02V402.4ZM27.65 402.4V401.90H29.32V402.4ZM30.95 402.4V401.90H32.62V402.4ZM34.25 402.4V401.41H35.92V402.4ZM37.55 402.4V401.14H39.22V402.4ZM40.85 402.4V400.37H42.52V402.4ZM44.15 402.4V399.23H45.82V402.4ZM47.45 402.4V397.95H49.12V402.4ZM50.75 402.4V393.74H52.42V402.4ZM54.05 402.4V391.03H55.72V402.4ZM57.35 402.4V384.26H59.02V402.4ZM60.65 402.4V380.56H62.32V402.4ZM63.95 402.4V370.51H65.62V402.4ZM67.25 402.4V363.44H68.92V402.4ZM70.55 402.4V347.93H72.22V402.4ZM73.85 402.4V344.52H75.52V402.4ZM77.15 402.4V337.94H78.82V402.4ZM80.45 402.4V327.21H82.12V402.4ZM83.75 402.4V329.50H85.42V402.4ZM87.05 402.4V329.44H88.72V402.4ZM90.35 402.4V330.22H92.02V402.4ZM93.65 402.4V334.76H95.32V402.4ZM96.95 402.4V334.48H98.62V402.4ZM100.25 402.4V348.38H101.92V402.4ZM103.55 402.4V357.71H105.22V402.4ZM106.85 402.4V368.98H108.52V402.4ZM110.15 402.4V375.08H111.82V402.4ZM113.45 402.4V384.01H115.12V402.4ZM116.75 402.4V388.99H118.42V402.4ZM120.05 402.4V396.27H121.72V402.4ZM123.35 402.4V398.34H125.02V402.4ZM126.65 402.4V399.69H128.32V402.4ZM129.95 402.4V400.44H131.62V402.4ZM133.25 402.4V401.18H134.92V402.4ZM136.55 402.4V401.63H138.22V402.4ZM139.85 402.4V401.90H141.52V402.4Z" fill="#B5B5B5"/>
<line x1="120.6" y1="319.5" x2="120.6" y2="405.7" stroke="#A8A8F8" stroke-width="1.15"/>
<text x="25" y="333.0" font-size="4.4" fill="#2a2a2a" stroke="#2a2a2a" stroke-width="0.08">M1+M2+M3+M4+M5</text>
<text x="25" y="338.5" font-size="4.4" fill="#2a2a2a" stroke="#2a2a2a" stroke-width="0.08">p value:0.0114</text>
<line x1="148.3" y1="323.7" x2="148.3" y2="402.3" stroke="#8f8f8f" stroke-width="0.45"/>
<line x1="147.0" y1="323.70" x2="148.3" y2="323.70" stroke="#8f8f8f" stroke-width="0.4"/>
<text transform="translate(144.70 323.70) rotate(-90)" font-size="2.7" text-anchor="middle" fill="#333" stroke="#333" stroke-width="0.1">140</text>
<line x1="147.0" y1="335.00" x2="148.3" y2="335.00" stroke="#8f8f8f" stroke-width="0.4"/>
<text transform="translate(144.70 335.00) rotate(-90)" font-size="2.7" text-anchor="middle" fill="#333" stroke="#333" stroke-width="0.1">120</text>
<line x1="147.0" y1="346.20" x2="148.3" y2="346.20" stroke="#8f8f8f" stroke-width="0.4"/>
<text transform="translate(144.70 346.20) rotate(-90)" font-size="2.7" text-anchor="middle" fill="#333" stroke="#333" stroke-width="0.1">100</text>
<line x1="147.0" y1="357.50" x2="148.3" y2="357.50" stroke="#8f8f8f" stroke-width="0.4"/>
<text transform="translate(144.70 357.50) rotate(-90)" font-size="2.7" text-anchor="middle" fill="#333" stroke="#333" stroke-width="0.1">80</text>
<line x1="147.0" y1="368.60" x2="148.3" y2="368.60" stroke="#8f8f8f" stroke-width="0.4"/>
<text transform="translate(144.70 368.60) rotate(-90)" font-size="2.7" text-anchor="middle" fill="#333" stroke="#333" stroke-width="0.1">60</text>
<line x1="147.0" y1="379.80" x2="148.3" y2="379.80" stroke="#8f8f8f" stroke-width="0.4"/>
<text transform="translate(144.70 379.80) rotate(-90)" font-size="2.7" text-anchor="middle" fill="#333" stroke="#333" stroke-width="0.1">40</text>
<line x1="147.0" y1="391.10" x2="148.3" y2="391.10" stroke="#8f8f8f" stroke-width="0.4"/>
<text transform="translate(144.70 391.10) rotate(-90)" font-size="2.7" text-anchor="middle" fill="#333" stroke="#333" stroke-width="0.1">20</text>
<line x1="147.0" y1="402.30" x2="148.3" y2="402.30" stroke="#8f8f8f" stroke-width="0.4"/>
<text transform="translate(144.70 402.30) rotate(-90)" font-size="2.7" text-anchor="middle" fill="#333" stroke="#333" stroke-width="0.1">0</text>
<line x1="148.4" y1="405.5" x2="273" y2="405.5" stroke="#8f8f8f" stroke-width="0.45"/>
<line x1="164.50" y1="405.5" x2="164.50" y2="406.7" stroke="#8f8f8f" stroke-width="0.35"/>
<text x="164.50" y="411.00" font-size="2.8" text-anchor="middle" fill="#333" stroke="#333" stroke-width="0.08">-30</text>
<line x1="190.40" y1="405.5" x2="190.40" y2="406.7" stroke="#8f8f8f" stroke-width="0.35"/>
<text x="190.40" y="411.00" font-size="2.8" text-anchor="middle" fill="#333" stroke="#333" stroke-width="0.08">-15</text>
<line x1="216.30" y1="405.5" x2="216.30" y2="406.7" stroke="#8f8f8f" stroke-width="0.35"/>
<text x="216.30" y="411.00" font-size="2.8" text-anchor="middle" fill="#333" stroke="#333" stroke-width="0.08">0</text>
<line x1="242.20" y1="405.5" x2="242.20" y2="406.7" stroke="#8f8f8f" stroke-width="0.35"/>
<text x="242.20" y="411.00" font-size="2.8" text-anchor="middle" fill="#333" stroke="#333" stroke-width="0.08">15</text>
<line x1="268.10" y1="405.5" x2="268.10" y2="406.7" stroke="#8f8f8f" stroke-width="0.35"/>
<text x="268.10" y="411.00" font-size="2.8" text-anchor="middle" fill="#333" stroke="#333" stroke-width="0.08">30</text>
<path d="M152.00 402.3V401.80H153.67V402.3ZM155.30 402.3V401.80H156.97V402.3ZM158.60 402.3V401.80H160.27V402.3ZM161.90 402.3V401.80H163.57V402.3ZM165.20 402.3V401.80H166.87V402.3ZM168.50 402.3V401.80H170.17V402.3ZM171.80 402.3V401.04H173.47V402.3ZM175.10 402.3V401.00H176.77V402.3ZM178.40 402.3V399.86H180.07V402.3ZM181.70 402.3V398.09H183.37V402.3ZM185.00 402.3V393.82H186.67V402.3ZM188.30 402.3V392.90H189.97V402.3ZM191.60 402.3V386.96H193.27V402.3ZM194.90 402.3V381.80H196.57V402.3ZM198.20 402.3V374.33H199.87V402.3ZM201.50 402.3V369.37H203.17V402.3ZM204.80 402.3V358.61H206.47V402.3ZM208.10 402.3V350.55H209.77V402.3ZM211.40 402.3V339.22H213.07V402.3ZM214.70 402.3V337.24H216.37V402.3ZM218.00 402.3V322.19H219.67V402.3ZM221.30 402.3V328.32H222.97V402.3ZM224.60 402.3V329.79H226.27V402.3ZM227.90 402.3V333.06H229.57V402.3ZM231.20 402.3V337.24H232.87V402.3ZM234.50 402.3V344.13H236.17V402.3ZM237.80 402.3V356.92H239.47V402.3ZM241.10 402.3V363.60H242.77V402.3ZM244.40 402.3V374.73H246.07V402.3ZM247.70 402.3V382.03H249.37V402.3ZM251.00 402.3V387.95H252.67V402.3ZM254.30 402.3V393.74H255.97V402.3ZM257.60 402.3V397.46H259.27V402.3ZM260.90 402.3V399.73H262.57V402.3ZM264.20 402.3V400.91H265.87V402.3ZM267.50 402.3V401.55H269.17V402.3ZM270.80 402.3V401.80H272.47V402.3Z" fill="#C3C3C3"/>
<path d="M153.65 402.3V401.80H155.32V402.3ZM156.95 402.3V401.80H158.62V402.3ZM160.25 402.3V401.80H161.92V402.3ZM163.55 402.3V401.80H165.22V402.3ZM166.85 402.3V401.80H168.52V402.3ZM170.15 402.3V401.61H171.82V402.3ZM173.45 402.3V400.98H175.12V402.3ZM176.75 402.3V400.51H178.42V402.3ZM180.05 402.3V398.92H181.72V402.3ZM183.35 402.3V395.95H185.02V402.3ZM186.65 402.3V394.32H188.32V402.3ZM189.95 402.3V390.73H191.62V402.3ZM193.25 402.3V384.92H194.92V402.3ZM196.55 402.3V378.59H198.22V402.3ZM199.85 402.3V372.50H201.52V402.3ZM203.15 402.3V365.24H204.82V402.3ZM206.45 402.3V355.32H208.12V402.3ZM209.75 402.3V346.04H211.42V402.3ZM213.05 402.3V338.12H214.72V402.3ZM216.35 402.3V331.04H218.02V402.3ZM219.65 402.3V320.91H221.32V402.3ZM222.95 402.3V332.34H224.62V402.3ZM226.25 402.3V329.86H227.92V402.3ZM229.55 402.3V336.74H231.22V402.3ZM232.85 402.3V341.40H234.52V402.3ZM236.15 402.3V350.51H237.82V402.3ZM239.45 402.3V361.17H241.12V402.3ZM242.75 402.3V370.06H244.42V402.3ZM246.05 402.3V378.75H247.72V402.3ZM249.35 402.3V385.49H251.02V402.3ZM252.65 402.3V391.45H254.32V402.3ZM255.95 402.3V396.15H257.62V402.3ZM259.25 402.3V398.70H260.92V402.3ZM262.55 402.3V400.34H264.22V402.3ZM265.85 402.3V401.27H267.52V402.3ZM269.15 402.3V401.80H270.82V402.3Z" fill="#B5B5B5"/>
<line x1="253.3" y1="318.7" x2="253.3" y2="405.5" stroke="#A8A8F8" stroke-width="1.15"/>
<text x="155.5" y="332.0" font-size="4.4" fill="#2a2a2a" stroke="#2a2a2a" stroke-width="0.08">M1+M2+M3+M4+M5+M6</text>
<text x="155.5" y="337.5" font-size="4.4" fill="#2a2a2a" stroke="#2a2a2a" stroke-width="0.08">p value:0.0185</text>
<line x1="283.3" y1="324.5" x2="283.3" y2="402.3" stroke="#8f8f8f" stroke-width="0.45"/>
<line x1="282.0" y1="324.50" x2="283.3" y2="324.50" stroke="#8f8f8f" stroke-width="0.4"/>
<text transform="translate(279.70 324.50) rotate(-90)" font-size="2.7" text-anchor="middle" fill="#333" stroke="#333" stroke-width="0.1">140</text>
<line x1="282.0" y1="335.50" x2="283.3" y2="335.50" stroke="#8f8f8f" stroke-width="0.4"/>
<text transform="translate(279.70 335.50) rotate(-90)" font-size="2.7" text-anchor="middle" fill="#333" stroke="#333" stroke-width="0.1">120</text>
<line x1="282.0" y1="347.00" x2="283.3" y2="347.00" stroke="#8f8f8f" stroke-width="0.4"/>
<text transform="translate(279.70 347.00) rotate(-90)" font-size="2.7" text-anchor="middle" fill="#333" stroke="#333" stroke-width="0.1">100</text>
<line x1="282.0" y1="358.00" x2="283.3" y2="358.00" stroke="#8f8f8f" stroke-width="0.4"/>
<text transform="translate(279.70 358.00) rotate(-90)" font-size="2.7" text-anchor="middle" fill="#333" stroke="#333" stroke-width="0.1">80</text>
<line x1="282.0" y1="368.80" x2="283.3" y2="368.80" stroke="#8f8f8f" stroke-width="0.4"/>
<text transform="translate(279.70 368.80) rotate(-90)" font-size="2.7" text-anchor="middle" fill="#333" stroke="#333" stroke-width="0.1">60</text>
<line x1="282.0" y1="380.50" x2="283.3" y2="380.50" stroke="#8f8f8f" stroke-width="0.4"/>
<text transform="translate(279.70 380.50) rotate(-90)" font-size="2.7" text-anchor="middle" fill="#333" stroke="#333" stroke-width="0.1">40</text>
<line x1="282.0" y1="391.20" x2="283.3" y2="391.20" stroke="#8f8f8f" stroke-width="0.4"/>
<text transform="translate(279.70 391.20) rotate(-90)" font-size="2.7" text-anchor="middle" fill="#333" stroke="#333" stroke-width="0.1">20</text>
<line x1="282.0" y1="402.30" x2="283.3" y2="402.30" stroke="#8f8f8f" stroke-width="0.4"/>
<text transform="translate(279.70 402.30) rotate(-90)" font-size="2.7" text-anchor="middle" fill="#333" stroke="#333" stroke-width="0.1">0</text>
<line x1="283.5" y1="405.5" x2="409.4" y2="405.5" stroke="#8f8f8f" stroke-width="0.45"/>
<line x1="293.50" y1="405.5" x2="293.50" y2="406.7" stroke="#8f8f8f" stroke-width="0.35"/>
<text x="293.50" y="411.00" font-size="2.8" text-anchor="middle" fill="#333" stroke="#333" stroke-width="0.08">-30</text>
<line x1="320.20" y1="405.5" x2="320.20" y2="406.7" stroke="#8f8f8f" stroke-width="0.35"/>
<text x="320.20" y="411.00" font-size="2.8" text-anchor="middle" fill="#333" stroke="#333" stroke-width="0.08">-20</text>
<line x1="346.90" y1="405.5" x2="346.90" y2="406.7" stroke="#8f8f8f" stroke-width="0.35"/>
<text x="346.90" y="411.00" font-size="2.8" text-anchor="middle" fill="#333" stroke="#333" stroke-width="0.08">-10</text>
<line x1="373.60" y1="405.5" x2="373.60" y2="406.7" stroke="#8f8f8f" stroke-width="0.35"/>
<text x="373.60" y="411.00" font-size="2.8" text-anchor="middle" fill="#333" stroke="#333" stroke-width="0.08">0</text>
<line x1="400.30" y1="405.5" x2="400.30" y2="406.7" stroke="#8f8f8f" stroke-width="0.35"/>
<text x="400.30" y="411.00" font-size="2.8" text-anchor="middle" fill="#333" stroke="#333" stroke-width="0.08">10</text>
<path d="M287.70 402.3V401.80H289.37V402.3ZM291.00 402.3V401.80H292.67V402.3ZM294.30 402.3V401.80H295.97V402.3ZM297.60 402.3V401.80H299.27V402.3ZM300.90 402.3V401.80H302.57V402.3ZM304.20 402.3V401.07H305.87V402.3ZM307.50 402.3V400.51H309.17V402.3ZM310.80 402.3V399.94H312.47V402.3ZM314.10 402.3V398.71H315.77V402.3ZM317.40 402.3V397.83H319.07V402.3ZM320.70 402.3V393.50H322.37V402.3ZM324.00 402.3V391.39H325.67V402.3ZM327.30 402.3V385.01H328.97V402.3ZM330.60 402.3V377.70H332.27V402.3ZM333.90 402.3V367.73H335.57V402.3ZM337.20 402.3V360.84H338.87V402.3ZM340.50 402.3V351.41H342.17V402.3ZM343.80 402.3V341.42H345.47V402.3ZM347.10 402.3V331.09H348.77V402.3ZM350.40 402.3V323.55H352.07V402.3ZM353.70 402.3V322.83H355.37V402.3ZM357.00 402.3V324.25H358.67V402.3ZM360.30 402.3V327.67H361.97V402.3ZM363.60 402.3V336.94H365.27V402.3ZM366.90 402.3V344.65H368.57V402.3ZM370.20 402.3V353.87H371.87V402.3ZM373.50 402.3V364.36H375.17V402.3ZM376.80 402.3V374.24H378.47V402.3ZM380.10 402.3V380.86H381.77V402.3ZM383.40 402.3V388.60H385.07V402.3ZM386.70 402.3V393.43H388.37V402.3ZM390.00 402.3V397.54H391.67V402.3ZM393.30 402.3V400.40H394.97V402.3ZM396.60 402.3V401.80H398.27V402.3ZM399.90 402.3V401.80H401.57V402.3ZM403.20 402.3V401.80H404.87V402.3Z" fill="#C3C3C3"/>
<path d="M289.35 402.3V401.80H291.02V402.3ZM292.65 402.3V401.80H294.32V402.3ZM295.95 402.3V401.80H297.62V402.3ZM299.25 402.3V401.80H300.92V402.3ZM302.55 402.3V401.26H304.22V402.3ZM305.85 402.3V400.76H307.52V402.3ZM309.15 402.3V400.25H310.82V402.3ZM312.45 402.3V399.63H314.12V402.3ZM315.75 402.3V398.13H317.42V402.3ZM319.05 402.3V395.57H320.72V402.3ZM322.35 402.3V392.08H324.02V402.3ZM325.65 402.3V387.15H327.32V402.3ZM328.95 402.3V381.17H330.62V402.3ZM332.25 402.3V372.58H333.92V402.3ZM335.55 402.3V364.84H337.22V402.3ZM338.85 402.3V354.90H340.52V402.3ZM342.15 402.3V346.39H343.82V402.3ZM345.45 402.3V335.93H347.12V402.3ZM348.75 402.3V329.89H350.42V402.3ZM352.05 402.3V322.03H353.72V402.3ZM355.35 402.3V325.19H357.02V402.3ZM358.65 402.3V327.96H360.32V402.3ZM361.95 402.3V332.91H363.62V402.3ZM365.25 402.3V341.11H366.92V402.3ZM368.55 402.3V350.46H370.22V402.3ZM371.85 402.3V358.18H373.52V402.3ZM375.15 402.3V369.63H376.82V402.3ZM378.45 402.3V377.55H380.12V402.3ZM381.75 402.3V384.62H383.42V402.3ZM385.05 402.3V391.30H386.72V402.3ZM388.35 402.3V395.55H390.02V402.3ZM391.65 402.3V399.09H393.32V402.3ZM394.95 402.3V401.21H396.62V402.3ZM398.25 402.3V401.80H399.92V402.3ZM401.55 402.3V401.80H403.22V402.3Z" fill="#B5B5B5"/>
<line x1="396.6" y1="318.7" x2="396.6" y2="405.5" stroke="#A8A8F8" stroke-width="1.15"/>
<text x="287" y="333.0" font-size="4.4" fill="#2a2a2a" stroke="#2a2a2a" stroke-width="0.08">M1+M2+M3+M4+M5+M6+M7</text>
<text x="287" y="338.5" font-size="4.4" fill="#2a2a2a" stroke="#2a2a2a" stroke-width="0.08">p value:9e-04</text>
<line x1="415.3" y1="336" x2="415.3" y2="402.3" stroke="#8f8f8f" stroke-width="0.45"/>
<line x1="414.0" y1="336.00" x2="415.3" y2="336.00" stroke="#8f8f8f" stroke-width="0.4"/>
<text transform="translate(411.70 336.00) rotate(-90)" font-size="2.7" text-anchor="middle" fill="#333" stroke="#333" stroke-width="0.1">60</text>
<line x1="414.0" y1="358.10" x2="415.3" y2="358.10" stroke="#8f8f8f" stroke-width="0.4"/>
<text transform="translate(411.70 358.10) rotate(-90)" font-size="2.7" text-anchor="middle" fill="#333" stroke="#333" stroke-width="0.1">40</text>
<line x1="414.0" y1="380.30" x2="415.3" y2="380.30" stroke="#8f8f8f" stroke-width="0.4"/>
<text transform="translate(411.70 380.30) rotate(-90)" font-size="2.7" text-anchor="middle" fill="#333" stroke="#333" stroke-width="0.1">20</text>
<line x1="414.0" y1="402.30" x2="415.3" y2="402.30" stroke="#8f8f8f" stroke-width="0.4"/>
<text transform="translate(411.70 402.30) rotate(-90)" font-size="2.7" text-anchor="middle" fill="#333" stroke="#333" stroke-width="0.1">0</text>
<line x1="416" y1="405.5" x2="540.5" y2="405.5" stroke="#8f8f8f" stroke-width="0.45"/>
<line x1="445.80" y1="405.5" x2="445.80" y2="406.7" stroke="#8f8f8f" stroke-width="0.35"/>
<text x="445.80" y="411.00" font-size="2.8" text-anchor="middle" fill="#333" stroke="#333" stroke-width="0.08">-10</text>
<line x1="476.00" y1="405.5" x2="476.00" y2="406.7" stroke="#8f8f8f" stroke-width="0.35"/>
<text x="476.00" y="411.00" font-size="2.8" text-anchor="middle" fill="#333" stroke="#333" stroke-width="0.08">0</text>
<line x1="506.20" y1="405.5" x2="506.20" y2="406.7" stroke="#8f8f8f" stroke-width="0.35"/>
<text x="506.20" y="411.00" font-size="2.8" text-anchor="middle" fill="#333" stroke="#333" stroke-width="0.08">10</text>
<line x1="536.40" y1="405.5" x2="536.40" y2="406.7" stroke="#8f8f8f" stroke-width="0.35"/>
<text x="536.40" y="411.00" font-size="2.8" text-anchor="middle" fill="#333" stroke="#333" stroke-width="0.08">20</text>
<path d="M419.90 402.3V401.80H421.57V402.3ZM423.20 402.3V401.80H424.87V402.3ZM426.50 402.3V401.80H428.17V402.3ZM429.80 402.3V401.80H431.47V402.3ZM433.10 402.3V400.89H434.77V402.3ZM436.40 402.3V400.09H438.07V402.3ZM439.70 402.3V399.35H441.37V402.3ZM443.00 402.3V398.37H444.67V402.3ZM446.30 402.3V394.99H447.97V402.3ZM449.60 402.3V392.73H451.27V402.3ZM452.90 402.3V385.88H454.57V402.3ZM456.20 402.3V383.24H457.87V402.3ZM459.50 402.3V374.56H461.17V402.3ZM462.80 402.3V366.57H464.47V402.3ZM466.10 402.3V363.61H467.77V402.3ZM469.40 402.3V349.54H471.07V402.3ZM472.70 402.3V338.56H474.37V402.3ZM476.00 402.3V336.08H477.67V402.3ZM479.30 402.3V327.63H480.97V402.3ZM482.60 402.3V321.32H484.27V402.3ZM485.90 402.3V324.96H487.57V402.3ZM489.20 402.3V326.39H490.87V402.3ZM492.50 402.3V326.42H494.17V402.3ZM495.80 402.3V335.68H497.47V402.3ZM499.10 402.3V350.22H500.77V402.3ZM502.40 402.3V355.57H504.07V402.3ZM505.70 402.3V366.02H507.37V402.3ZM509.00 402.3V376.88H510.67V402.3ZM512.30 402.3V383.07H513.97V402.3ZM515.60 402.3V389.27H517.27V402.3ZM518.90 402.3V394.82H520.57V402.3ZM522.20 402.3V398.18H523.87V402.3ZM525.50 402.3V399.59H527.17V402.3ZM528.80 402.3V400.57H530.47V402.3ZM532.10 402.3V401.33H533.77V402.3ZM535.40 402.3V401.80H537.07V402.3Z" fill="#C3C3C3"/>
<path d="M421.55 402.3V401.80H423.22V402.3ZM424.85 402.3V401.80H426.52V402.3ZM428.15 402.3V401.80H429.82V402.3ZM431.45 402.3V401.39H433.12V402.3ZM434.75 402.3V400.51H436.42V402.3ZM438.05 402.3V399.68H439.72V402.3ZM441.35 402.3V399.13H443.02V402.3ZM444.65 402.3V396.59H446.32V402.3ZM447.95 402.3V394.14H449.62V402.3ZM451.25 402.3V391.75H452.92V402.3ZM454.55 402.3V385.45H456.22V402.3ZM457.85 402.3V383.05H459.52V402.3ZM461.15 402.3V372.24H462.82V402.3ZM464.45 402.3V365.64H466.12V402.3ZM467.75 402.3V359.32H469.42V402.3ZM471.05 402.3V341.91H472.72V402.3ZM474.35 402.3V338.69H476.02V402.3ZM477.65 402.3V329.27H479.32V402.3ZM480.95 402.3V327.00H482.62V402.3ZM484.25 402.3V328.44H485.92V402.3ZM487.55 402.3V323.25H489.22V402.3ZM490.85 402.3V326.71H492.52V402.3ZM494.15 402.3V328.73H495.82V402.3ZM497.45 402.3V337.49H499.12V402.3ZM500.75 402.3V351.51H502.42V402.3ZM504.05 402.3V362.97H505.72V402.3ZM507.35 402.3V371.73H509.02V402.3ZM510.65 402.3V380.60H512.32V402.3ZM513.95 402.3V386.88H515.62V402.3ZM517.25 402.3V392.48H518.92V402.3ZM520.55 402.3V396.93H522.22V402.3ZM523.85 402.3V398.93H525.52V402.3ZM527.15 402.3V400.08H528.82V402.3ZM530.45 402.3V401.05H532.12V402.3ZM533.75 402.3V401.61H535.42V402.3Z" fill="#B5B5B5"/>
<line x1="541.8" y1="318.2" x2="541.8" y2="405.5" stroke="#A8A8F8" stroke-width="1.15"/>
<text x="422.5" y="334.20000000000005" font-size="4.4" fill="#2a2a2a" stroke="#2a2a2a" stroke-width="0.08">Community network</text>
<text x="422.5" y="339.70000000000005" font-size="4.4" fill="#2a2a2a" stroke="#2a2a2a" stroke-width="0.08">p value:0</text>
</svg></body></html>
